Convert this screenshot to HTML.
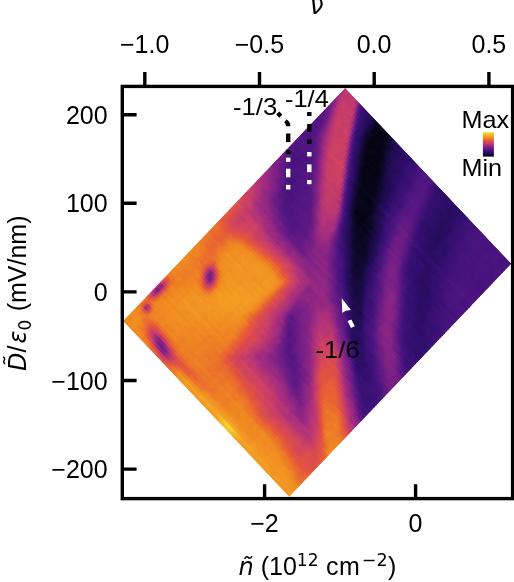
<!DOCTYPE html>
<html lang="en"><head><meta charset="utf-8"><title>nu - D map</title>
<style>
html,body{margin:0;padding:0;background:#fff}
#fig{position:relative;width:514px;height:582px;overflow:hidden;background:#fff}
#hm{position:absolute;left:0;top:0;width:321.83px;height:242.14px;transform-origin:0 0;transform:matrix(0.68981,-0.72399,0.68679,0.72685,123.00,321.00);overflow:hidden}
#hm div{position:absolute;top:0;height:242.14px}
#ov{position:absolute;left:0;top:0}
text{font-family:"Liberation Sans",sans-serif;fill:#000}
.dj{font-family:"DejaVu Sans",sans-serif}
.it{font-family:"DejaVu Sans",sans-serif;font-style:italic}
</style></head><body>
<div id="fig">
<div id="hm">
<div style="left:0px;width:4px;background:linear-gradient(180deg,#f08720,#ef8521,#f08920,#f08b21,#f08621,#f08b21,#ef8521,#ee8124,#f08621,#ee8024,#eb702c,#e96930,#e86134,#e4563b,#e05243,#e4563c,#e86034,#ea6a2f,#ec732b,#ee7d26,#f08a20,#f18d21,#f19222,#f29723,#f29523,#f29423,#f29723,#f29423,#f29924,#f29723,#f29824,#f3a025,#f39a24,#f39c24,#f39b24,#f3a025,#f5a927,#f5b82c,#f5bf2e,#f5c430,#f5bf2e,#f5b72c,#f5a927,#f4a326,#f29924,#f29723,#f39a24,#f39e25,#f29a24,#f29523,#f39b24,#f29824,#f29723,#f29623,#f39a24,#f29623,#f29322,#f29824,#f29623,#f29723,#f29723,#f29423,#f29723,#f39a24)"></div>
<div style="left:3px;width:4px;background:linear-gradient(180deg,#f08c21,#f18c21,#f18f22,#f19222,#f18c21,#f08820,#f08820,#ed7928,#eb712b,#e96730,#e15341,#d94b50,#cf4161,#c53c69,#c63d67,#d1435f,#de5047,#e75c36,#ec742a,#ee7e25,#f19022,#f19022,#f29623,#f39e25,#f39e25,#f39f25,#f39c24,#f39f25,#f4a627,#f4a526,#f4a226,#f4a827,#f4a827,#f4a526,#f4a727,#f5af29,#f5b22a,#f5c530,#f5cb32,#f5cc32,#f5c932,#f5bf2e,#f5b32a,#f5aa28,#f3a025,#f39f25,#f4a326,#f4a426,#f39d25,#f39f25,#f39f25,#f39e25,#f39d25,#f39f25,#f39b24,#f29723,#f29623,#f39c24,#f29924,#f39d25,#f29924,#f29523,#f39a24,#f29924)"></div>
<div style="left:6px;width:4px;background:linear-gradient(180deg,#f18d21,#ef8422,#f18e21,#f18f21,#f08820,#ed7c26,#ec7729,#e75b37,#de5046,#d04260,#b63574,#9c2b7f,#8e2682,#872484,#972980,#ac307c,#cb4064,#dd4f48,#e75b36,#ea6b2f,#ed7928,#ee7d26,#ef8223,#f08a20,#f08b21,#f08b21,#f19322,#f18f22,#f29623,#f29423,#f29823,#f39c25,#f29723,#f39c25,#f39b24,#f39d25,#f39e25,#f4a727,#f4a727,#f4a627,#f4a827,#f4a426,#f39e25,#f29924,#f29824,#f29623,#f29423,#f39d25,#f29723,#f29723,#f29623,#f29824,#f29423,#f29523,#f19222,#f29423,#f19222,#f29423,#f29423,#f29523,#f29523,#f19022,#f19122,#f29322)"></div>
<div style="left:9px;width:4px;background:linear-gradient(180deg,#f18f22,#f18e21,#f18c21,#f18f22,#f08a20,#ed7a27,#e86432,#dd4f48,#cb4064,#ae317b,#882484,#771f85,#711d85,#771f86,#942881,#b13378,#ca3f65,#d84a52,#dd4f48,#e55739,#e75e35,#e75b37,#e75f35,#ea6d2e,#eb712b,#eb722b,#ee7c26,#ed7a27,#ef8521,#f18c21,#f18d21,#f19022,#f19122,#f19022,#f18f22,#f29423,#f29623,#f29623,#f39a24,#f29323,#f29723,#f29423,#f19222,#f29323,#f29323,#f19122,#f29423,#f29924,#f19222,#f19022,#f29523,#f19222,#f29723,#f29623,#f29322,#f29423,#f29924,#f29523,#f29423,#f29824,#f29723,#f19222,#f19022,#f18e21)"></div>
<div style="left:12px;width:4px;background:linear-gradient(180deg,#f08b21,#f08621,#f18e21,#f08b21,#ee7c26,#ea6c2e,#e4563b,#d2445d,#ba3771,#a12c7e,#842384,#832285,#872484,#9f2c7f,#b73673,#cf4161,#d74953,#dd4f49,#e15341,#e05242,#e5573a,#e65838,#e65a37,#e96631,#e86034,#ea6c2e,#eb722b,#eb6e2d,#ec742a,#ee7c26,#ee8024,#ee7f24,#ef8322,#f08820,#ef8322,#f08a20,#f08b21,#f18c21,#f18e21,#f08a20,#f18c21,#f18c21,#f18e21,#f08b21,#f08621,#f18c21,#f08b21,#f19122,#f19322,#f18f21,#f19022,#f18e21,#f29323,#f19222,#f29322,#f29423,#f19122,#f29423,#f19222,#f18f21,#f18d21,#f08a20,#f08920,#f08920)"></div>
<div style="left:15px;width:4px;background:linear-gradient(180deg,#f08920,#f08820,#ef8422,#ef8123,#eb712c,#ea692f,#e3553d,#d64855,#cf4260,#c13a6c,#b73673,#be396e,#c53d68,#d54757,#de5047,#e15340,#e96532,#e86332,#ea692f,#e86333,#ea6d2e,#ea6b2e,#e96532,#ea692f,#ea6b2e,#eb6e2d,#eb6f2c,#eb6e2d,#ed7a27,#eb712c,#ed7928,#ee7c26,#ee7e25,#ee8124,#ed7c26,#ef8223,#ee7f25,#f08920,#f08820,#f08621,#f08820,#f08a21,#f08a20,#f08a20,#f08920,#ef8621,#f18c21,#f18f21,#f18d21,#f08b21,#f18f21,#f18f22,#f19322,#f18d21,#f19022,#f18f22,#f19022,#f19222,#f19022,#f08721,#ef8422,#ed7a27,#ed7a27,#ed7828)"></div>
<div style="left:18px;width:4px;background:linear-gradient(180deg,#f08820,#ef8521,#eb722b,#ed7a27,#ec7629,#ea6c2e,#e75f34,#e15342,#e05244,#e05244,#e05243,#e2543f,#e65938,#e86432,#ea6b2e,#eb712b,#ec7729,#ec7529,#ed7828,#eb702c,#ed7c26,#ed7927,#eb712b,#ed7a27,#eb722b,#ec7629,#ed7828,#eb712b,#ee7c26,#ec7729,#ed7728,#ee7d26,#ed7a27,#ee7f24,#ee7d26,#ee7f25,#ef8323,#f08920,#f08721,#ef8124,#f08920,#f08920,#f08820,#ef8323,#f08621,#f08a20,#ef8521,#f18e21,#f08a20,#f08820,#f18f22,#f08a20,#f18d21,#f19022,#f18c21,#f08920,#ef8223,#ef8422,#ee7e25,#ef8521,#ec7729,#ea6c2e,#ea6a2f,#ea6c2e)"></div>
<div style="left:21px;width:4px;background:linear-gradient(180deg,#ef8123,#ec732b,#da4c4d,#e75f35,#ed7a27,#ee7c26,#ed7728,#ea6b2e,#eb712c,#eb702c,#eb712c,#ec742a,#ec7529,#ec7629,#ee7c26,#ed7728,#ef8323,#ee7e25,#ed7a27,#ed7828,#ee7d25,#ed7b27,#ee7c26,#ed7927,#ec732a,#ec7629,#ec7629,#ec742a,#ed7b26,#ed7728,#ed7b26,#ed7b26,#ed7b27,#ee7e25,#ed7927,#ef8223,#ef8223,#ef8123,#ef8521,#f08621,#f08a21,#ef8521,#f08820,#ef8322,#f08c21,#f08820,#f18c21,#f18e21,#f18c21,#f08b21,#f08b21,#f08b21,#f08820,#f08a20,#ef8223,#ee7f25,#ee7d26,#ee7e25,#ec7629,#eb722b,#ea6b2f,#e86233,#ea6a2f,#ea6d2e)"></div>
<div style="left:24px;width:4px;background:linear-gradient(180deg,#f08720,#e4563b,#9a2a80,#d64856,#ee7f24,#ef8521,#f08820,#ee8024,#f08820,#ef8322,#ee8124,#f08621,#f08720,#f08a20,#ef8422,#ef8223,#ef8223,#ee7e25,#ee7e25,#ee8024,#ee8024,#ef8322,#ef8223,#ee8124,#ef8123,#ed7a27,#ee7e25,#ec7629,#ee8024,#ed7828,#ee7d25,#ee8024,#ee7d25,#ef8521,#ee8124,#ef8422,#f08721,#f08b21,#f08820,#f08820,#f08920,#ef8123,#f08721,#ee7f24,#f08621,#ef8123,#f08621,#f18c21,#f08621,#f08720,#f08621,#ef8223,#ee7d26,#ee7e25,#ee7e25,#ed7728,#ec732a,#ea6d2d,#e96830,#e96830,#e96531,#e75f34,#e86333,#ea6a2f)"></div>
<div style="left:27px;width:4px;background:linear-gradient(180deg,#ee7d26,#e65a37,#af317a,#d94b50,#ef8223,#f08621,#f08820,#ef8123,#f18c21,#ef8124,#ef8123,#ef8223,#f08920,#ef8422,#ef8123,#ed7b26,#ef8322,#ee8124,#ee7e25,#ec7729,#ee7c26,#ed7c26,#ed7a27,#ee7d26,#ec7729,#eb6e2d,#ec752a,#eb6e2d,#ed7828,#ec7729,#ec742a,#ed7828,#ed7b26,#ee7f24,#ed7927,#ec7729,#ee7e25,#ef8422,#ef8422,#ed7928,#ed7928,#ec752a,#ed7728,#eb6f2c,#eb712c,#eb6e2d,#ec7629,#ec752a,#ec7729,#ec732b,#ed7828,#ec742a,#ec732b,#e96730,#ea6b2f,#e96531,#e75c36,#e86134,#e65938,#e75c36,#e3553d,#e2543f,#e75b37,#e86432)"></div>
<div style="left:30px;width:4px;background:linear-gradient(180deg,#ec7729,#e86134,#e65a37,#ec742a,#f08a20,#ef8522,#f08920,#ef8223,#f18c21,#f18d21,#ef8621,#f08820,#f08c21,#f08721,#ef8223,#ee7e25,#ee7f24,#ef8521,#ee8024,#ee8124,#ef8522,#ed7b26,#ed7927,#ee8024,#ed7928,#ec752a,#eb712c,#ec742a,#ec7629,#eb702c,#ec7529,#ee7d25,#ee7f24,#ee7d26,#ec7529,#ef8123,#ed7927,#ed7b26,#ec7728,#eb712c,#ec7729,#ea6c2e,#ea692f,#e96532,#ea6930,#e86333,#ea6a2f,#ea6d2e,#ea692f,#e96432,#ea6e2d,#ea6c2e,#e86432,#e75e35,#e65838,#e65838,#e2543f,#e2543f,#e15341,#e05243,#e3553e,#e15341,#e3553d,#e75b37)"></div>
<div style="left:33px;width:4px;background:linear-gradient(180deg,#e86333,#e15342,#ec742a,#f08621,#f08720,#f08820,#f18c21,#f08720,#f18c21,#f18d21,#f08b21,#f18d21,#f08b21,#f08820,#f08721,#ef8323,#f08820,#ef8522,#ef8323,#ef8123,#ef8422,#ee7d26,#ec7729,#ee7f25,#ed7928,#ec742a,#ec732a,#eb6e2d,#ec7729,#ec7629,#ec7629,#ed7927,#eb722b,#ed7928,#ec732b,#eb712b,#ec732b,#ec7529,#ec732a,#ea6930,#e96730,#e75f35,#e86233,#e3553d,#e4563b,#e4563b,#e75c36,#e75d35,#e55739,#e4563c,#e65a37,#e65937,#e65839,#e4563c,#e05242,#df5145,#de5047,#db4d4c,#dc4e4a,#e25440,#e05242,#de5046,#e2543f,#e3553d)"></div>
<div style="left:36px;width:4px;background:linear-gradient(180deg,#e05243,#d1435e,#e75c36,#f08621,#f08c21,#f08920,#f08b21,#f18c21,#f18c21,#f18d21,#f08a20,#ef8521,#f08b21,#f08820,#f08920,#f08920,#f08720,#ef8223,#ef8322,#ee7d25,#ef8422,#ed7828,#ec7529,#ec742a,#ec7629,#eb702c,#eb6f2c,#ea6b2f,#eb722b,#ea6d2d,#ea6d2d,#eb6f2d,#ea6d2d,#ea6d2d,#e86432,#e96531,#e96731,#e96731,#e86432,#e75d35,#e75e35,#e2543f,#e15341,#dc4e49,#dd4f49,#db4d4c,#dd4f49,#de5046,#df5145,#dd4f49,#de5046,#df5144,#dc4e4b,#da4c4d,#de5046,#d84a51,#d54756,#d64855,#d84a51,#de5047,#de5047,#dc4e49,#dd4f48,#de5046)"></div>
<div style="left:39px;width:4px;background:linear-gradient(180deg,#d3455b,#af327a,#e15341,#ef8521,#f08820,#f08b21,#f08a20,#f08a20,#f18f21,#f18d21,#f18d21,#f18f22,#f18e21,#f08920,#f08720,#ef8322,#ef8522,#ef8522,#ef8522,#ee7f25,#ef8323,#ee7e25,#ed7927,#ed7927,#ed7a27,#ec732a,#eb6e2d,#e96930,#ea6d2d,#ea6a2f,#ea6a2f,#ea6b2e,#e96432,#e96731,#e86034,#e85f34,#e75b37,#e75b36,#e4563c,#e2543f,#e4563b,#de5047,#dc4e4a,#db4d4b,#d74953,#d44658,#da4c4e,#da4c4e,#d84a51,#d64856,#da4c4e,#d84a52,#d84a51,#d94b4f,#d84a52,#d54757,#d54757,#d54757,#d94b4f,#dd4f48,#da4c4d,#d94b50,#dd4f49,#e25440)"></div>
<div style="left:42px;width:4px;background:linear-gradient(180deg,#bf3a6d,#872484,#d84a51,#ef8323,#f08b21,#f18d21,#f18d21,#f08b21,#f18f22,#f19022,#f19222,#f19022,#f19022,#f18e21,#f08721,#f08721,#f08820,#f08920,#f08920,#ee7d25,#ef8322,#ee8024,#ed7928,#ed7a27,#ec732a,#eb722b,#ea6a2f,#e96730,#e96731,#e86233,#e86133,#e75c36,#e4563b,#e75b37,#e25440,#e2543f,#e15341,#e3553e,#df5145,#dc4e49,#dd4f48,#db4d4b,#d54756,#d74953,#d44659,#cf4161,#d04260,#d54757,#d2445d,#d2445d,#d54756,#d2445c,#d3455b,#d44659,#d44659,#d54757,#d4465a,#d44658,#d64856,#dd4f48,#da4c4e,#d94b4f,#de5047,#e75d35)"></div>
<div style="left:45px;width:4px;background:linear-gradient(180deg,#b23377,#701d85,#d04260,#ed7a27,#ef8124,#f08820,#f08b21,#f08820,#f18c21,#f18c21,#f08920,#f18d21,#f08a21,#f18c21,#f08b21,#ef8223,#f08820,#ef8322,#ee8024,#ee7c26,#ee8024,#ee7e25,#ed7b27,#ec7629,#eb722b,#e96930,#e86332,#e25440,#e75c36,#e3553e,#e3553d,#e15341,#dd4f48,#e05244,#de5047,#dc4e49,#d74953,#dd4f49,#d84a52,#d54757,#d44658,#d1435f,#d1435f,#cd4162,#cb3f64,#ca3f65,#ca3f64,#c93f65,#c93f65,#cb3f64,#cf4161,#ca3f65,#cb4064,#cc4063,#cd4162,#ce4162,#c83e66,#ce4161,#d3455b,#d74954,#d84a51,#d64855,#e15341,#e5573b)"></div>
<div style="left:48px;width:4px;background:linear-gradient(180deg,#bc3870,#7a2086,#d2445c,#ee8024,#f08820,#f18e21,#f19022,#f18f21,#f29323,#f19222,#f18e21,#f19222,#f19222,#f18f21,#f18f22,#f18d21,#f08a20,#f08a20,#f08820,#ee8024,#f08720,#ee7f25,#ee7c26,#ee8024,#ed7927,#ea6b2e,#e86034,#e15342,#e3553e,#dd4f48,#de5047,#e05243,#dc4e4a,#db4d4c,#d84a51,#db4d4c,#d84a52,#db4d4d,#d74954,#d74954,#d64855,#d3455b,#d1435f,#cf4161,#cb4064,#c83e66,#c73d67,#c53c69,#c23b6b,#c33c6a,#bf3a6d,#bf396e,#bf396e,#c23b6b,#c03a6d,#c63d67,#c63d68,#cb4064,#cd4063,#d44659,#d94b4f,#df5144,#e65839,#e96830)"></div>
<div style="left:51px;width:4px;background:linear-gradient(180deg,#c93e66,#832285,#d3455b,#ec732b,#ef8322,#ef8323,#f18e21,#f08721,#f29322,#f19022,#f18d21,#f18e21,#f19222,#f18e21,#f08621,#f08a21,#f08a20,#ef8223,#f08721,#ed7b27,#ef8223,#ee7d26,#ec7729,#ee7c26,#eb702c,#e86432,#e2543f,#d74953,#db4d4c,#d54756,#d2445c,#d54757,#d1435f,#d3455a,#d1435f,#d2445d,#d1435f,#d1435d,#d2445c,#d04260,#cc4063,#ca3f65,#c93e66,#c63d68,#c13a6c,#b83673,#b93672,#b33476,#ad317b,#af317a,#b53575,#b53475,#b43476,#b33476,#b93672,#b93772,#bb3771,#c03a6d,#c63d68,#d3455b,#da4c4e,#de5047,#e65938,#ea6a2f)"></div>
<div style="left:54px;width:4px;background:linear-gradient(180deg,#dc4e4a,#b53475,#dc4e4a,#ee8024,#f08721,#f18c21,#f18d21,#f18e21,#f19222,#f19122,#f29423,#f19122,#f19122,#f18f22,#f29322,#f18e21,#f18d21,#f08b21,#f08b21,#f08720,#ef8322,#ef8522,#ee7e25,#ee7e25,#ec7729,#ea6a2f,#e75c36,#d84a51,#d54757,#d0425f,#d1435e,#d3455a,#cb3f64,#d0425f,#d04260,#cc4063,#ce4162,#d2445c,#ce4162,#cc4063,#cc4063,#ca3f65,#c23b6b,#c23b6b,#ba3771,#b73673,#b63574,#b33476,#ae317b,#a52e7d,#ad317b,#ad307b,#b03279,#b43475,#af317a,#b43476,#b33377,#bb3870,#cf4260,#d84a52,#e15342,#e4563c,#e96531,#ee7c26)"></div>
<div style="left:57px;width:4px;background:linear-gradient(180deg,#e75e35,#d44658,#e86233,#ef8322,#f08621,#f18c21,#f19122,#f19122,#f29924,#f29723,#f29523,#f29824,#f29824,#f29823,#f29423,#f19222,#f19122,#f29423,#f18c21,#f08b21,#f08b21,#f08a20,#f08820,#ef8322,#ee7d25,#e96830,#e86034,#db4d4c,#d2445c,#ce4162,#d1435e,#d3455a,#d1435f,#d04260,#cd4162,#d2445c,#cd4063,#d1435f,#cf4261,#c93e66,#cd4063,#c63d68,#c33b6a,#bc386f,#b83673,#b53475,#b13378,#b13378,#aa2f7c,#ab307c,#aa2f7c,#a62e7d,#ab307c,#ae317b,#b23378,#b73574,#ba3771,#c93f65,#d44658,#dd4f49,#e3553d,#e96730,#ef8223,#f18d21)"></div>
<div style="left:60px;width:4px;background:linear-gradient(180deg,#eb6f2d,#e15342,#e96830,#ee7c26,#ee7d26,#ef8124,#f08a20,#f08920,#f19022,#f19222,#f18f22,#f19122,#f19222,#f18e21,#f18f22,#f08b21,#f08a21,#f08b21,#f08a20,#ef8322,#ef8223,#ef8522,#ee8024,#ef8223,#ec7629,#e86034,#e4563c,#d64855,#d44659,#c43c6a,#c43c69,#c23b6b,#be396e,#c33b6a,#c13b6c,#c23b6b,#c03a6d,#be396e,#c43c69,#ba3771,#be396e,#b93672,#b33476,#ae317b,#a12c7e,#a92f7d,#a42d7e,#a62e7d,#982980,#952881,#942881,#942881,#972980,#9e2b7f,#ab307c,#b33476,#bd396f,#cd4063,#d84a52,#dc4e4b,#e75e35,#ea6d2d,#ef8223,#f08920)"></div>
<div style="left:63px;width:4px;background:linear-gradient(180deg,#ef8521,#ec732b,#eb702c,#ed7b27,#ee7e25,#f08a20,#f18d21,#f18c21,#f18f22,#f19222,#f18e21,#f19122,#f29623,#f29523,#f19022,#f19022,#f29423,#f18f22,#f18d21,#f08b21,#f18d21,#f08820,#ef8223,#ef8422,#ed7828,#e96531,#e65a37,#da4c4d,#d44658,#cd4162,#c23b6b,#c43c69,#bd386f,#be396e,#bf396d,#b93672,#b73574,#b93772,#bb3771,#b63574,#b73574,#ae317a,#a72e7d,#a72e7d,#a42d7e,#9e2b7f,#9d2b7f,#9c2b7f,#962981,#8d2683,#8c2583,#8d2682,#982980,#a02c7f,#b33377,#bb3770,#c83e66,#d44659,#d94b4f,#e86133,#ec7629,#ee7f24,#f08721,#f18c21)"></div>
<div style="left:66px;width:4px;background:linear-gradient(180deg,#ef8323,#ed7c26,#ee7e25,#ef8522,#ee7d25,#ef8521,#f08920,#f08920,#f19222,#f29523,#f19222,#f29423,#f29423,#f29824,#f29323,#f29322,#f19122,#f19122,#f18e21,#f08621,#f18d21,#f08a21,#ee8024,#f08721,#ec7728,#e86432,#e5573a,#d74954,#d44658,#cd4162,#bc386f,#b93672,#b73574,#b63574,#af327a,#af327a,#b03279,#b23378,#b23377,#a82f7d,#af317a,#a62e7d,#a72e7d,#9e2b7f,#972980,#922781,#8e2682,#8d2683,#872484,#862384,#8c2583,#912782,#9f2c7f,#af327a,#bc3870,#c33c6a,#cc4063,#d74953,#e65838,#ed7b27,#ed7a27,#ef8123,#ef8422,#ef8422)"></div>
<div style="left:69px;width:4px;background:linear-gradient(180deg,#f08a20,#ef8322,#ee7d26,#f08621,#ee7e25,#ef8323,#f18d21,#f18d21,#f29323,#f29623,#f18f22,#f29924,#f29623,#f29723,#f29824,#f19222,#f29623,#f29423,#f19122,#f18e21,#f18c21,#f08920,#f08621,#f08920,#ef8322,#e96830,#e65838,#da4c4d,#d64855,#ce4162,#be396e,#b93772,#ab307c,#b03279,#a22d7e,#a42d7e,#a82f7d,#a52e7e,#aa2f7c,#a42d7e,#a52e7e,#a22d7e,#a12c7e,#992a80,#8d2682,#852384,#8b2583,#842384,#7d2086,#812285,#8e2682,#9b2a7f,#a82f7d,#b73673,#bd386f,#c23b6b,#d44659,#e65938,#ed7a27,#f08621,#ee7f24,#ee8024,#ef8323,#f08920)"></div>
<div style="left:72px;width:4px;background:linear-gradient(180deg,#ef8521,#ef8322,#ee7f24,#ed7b26,#ed7a27,#ef8522,#f08721,#f08820,#f19022,#f18c21,#f19022,#f18f22,#f19322,#f29523,#f29824,#f19122,#f29623,#f19222,#f18d21,#f18e21,#f18d21,#f08720,#ef8521,#ef8223,#ec7529,#e86034,#e65938,#d94b4f,#d3455b,#c83e66,#bf396d,#af317a,#9b2a7f,#9f2c7f,#9d2b7f,#9d2b7f,#9b2a80,#9e2b7f,#982980,#982980,#942881,#972980,#922782,#852384,#7b2086,#731e85,#721e85,#741e85,#751e85,#7d2086,#952881,#a32d7e,#af317a,#b63574,#c23b6b,#d2445d,#e15342,#ea6b2f,#ed7a27,#ef8422,#ee7f24,#ee8024,#ee7f25,#ef8223)"></div>
<div style="left:75px;width:4px;background:linear-gradient(180deg,#f18d21,#f08621,#ef8522,#ee7c26,#ee7f25,#ef8422,#ef8422,#f08a21,#f18d21,#f18d21,#f08820,#f18d21,#f29523,#f19122,#f29423,#f29623,#f29723,#f29723,#f29423,#f18c21,#f19222,#f18c21,#f08a20,#ef8522,#ec7529,#e75e35,#e3553e,#d74953,#d84a51,#ca3f64,#bf396d,#b33377,#a22d7e,#9d2b7f,#9a2a80,#9a2a80,#982980,#982980,#982980,#942881,#8e2682,#882484,#7b2086,#771f86,#6d1c85,#6a1c84,#631a84,#761f85,#7e2186,#8b2583,#9c2b7f,#a92f7d,#b33476,#bf396d,#d2445d,#e15342,#e96631,#ed7b27,#ed7927,#ed7a27,#ef8223,#ed7828,#ee8024,#ec7529)"></div>
<div style="left:78px;width:4px;background:linear-gradient(180deg,#f08a20,#f08621,#ee7f25,#ed7928,#ed7a27,#ef8422,#f08720,#f08621,#ef8323,#ed7a27,#ec742a,#ee7e25,#f19122,#f29623,#f29924,#f29523,#f29723,#f29623,#f29523,#f19022,#f19022,#f18c21,#f08a21,#ee7e25,#ec742a,#e75f35,#e2543f,#d84a51,#d64855,#cc4063,#c53c69,#b53575,#9e2b7f,#9f2c7f,#8e2682,#8f2682,#8c2583,#8e2682,#8b2583,#842384,#7f2185,#741e85,#6c1c84,#631a84,#5e1983,#611983,#701d85,#771f86,#852384,#912782,#a22d7e,#ab307c,#b93672,#cf4161,#dd4f48,#e96631,#ec7629,#ee7d26,#ed7728,#ed7a27,#ed7b26,#ec7729,#ec742a,#e86333)"></div>
<div style="left:81px;width:4px;background:linear-gradient(180deg,#f08920,#f08621,#ef8323,#ef8124,#ed7728,#ef8123,#ee8024,#ed7b26,#eb6e2d,#e5573a,#e4563c,#eb712c,#f08920,#f29723,#f29723,#f39b24,#f39a24,#f29824,#f29623,#f19122,#f29323,#f18e21,#f18c21,#ef8422,#eb712b,#e75b36,#e25440,#d74954,#db4d4d,#cc4063,#c03a6d,#b73673,#a62e7d,#9b2a80,#882483,#832285,#7f2185,#812285,#7e2186,#781f86,#741e85,#681b84,#651b84,#5d1983,#5d1983,#631a84,#711d85,#852384,#922781,#972980,#ad317b,#ba3771,#cb3f64,#da4c4e,#e75e35,#eb712b,#ec742a,#ec732b,#ee7f24,#ef8322,#ed7828,#e96731,#e75f35,#e3553e)"></div>
<div style="left:84px;width:4px;background:linear-gradient(180deg,#f18f22,#f08920,#ee8024,#ef8123,#ee7f25,#ef8223,#f08621,#eb722b,#e05243,#c73e67,#d2445d,#e75f34,#f18f22,#f29623,#f39d25,#f29a24,#f39e25,#f39b24,#f39b24,#f29423,#f29423,#f19222,#f08c21,#ee8024,#ea6d2d,#e55739,#e15341,#d74952,#d64855,#d54758,#c43c69,#b83673,#a72e7d,#9f2c7f,#8c2583,#862384,#7d2086,#731e85,#761f85,#6d1c85,#681b84,#651b84,#5d1983,#5f1983,#611a83,#6b1c84,#7f2185,#8c2583,#952881,#9d2b7f,#b63575,#cc4063,#dc4e4a,#e75b37,#eb6e2d,#ed7b26,#eb722b,#ed7828,#ee7c26,#ee7c26,#eb6f2d,#e75f35,#e25440,#d84a51)"></div>
<div style="left:87px;width:4px;background:linear-gradient(180deg,#f18d21,#f08820,#ef8422,#ee7e25,#ee7d26,#ef8223,#ed7a27,#e4563b,#bc3870,#962981,#ba3771,#e86133,#f18e21,#f39a24,#f39e25,#f39b24,#f39d25,#f39b24,#f39c24,#f29824,#f39c24,#f19222,#f18d21,#ef8422,#ec732b,#e65838,#df5145,#d44659,#d3455a,#cc4063,#c13b6b,#b43475,#9f2c7f,#9d2b7f,#8b2583,#812285,#721e85,#741e85,#701d85,#601983,#611983,#581783,#5b1883,#631a84,#6a1c84,#791f86,#892483,#932881,#9c2b7f,#af327a,#c93f65,#d94b4f,#e5573a,#eb6e2d,#eb6f2c,#ec752a,#ec7629,#ee7d25,#ed7928,#ea6c2e,#e55739,#dc4e4a,#d2445c,#c73e67)"></div>
<div style="left:90px;width:4px;background:linear-gradient(180deg,#f08820,#f08621,#ef8422,#ed7828,#ec7729,#ec742a,#ea6a2f,#cc4063,#852384,#6f1d85,#b83673,#e75d36,#f08a20,#f29523,#f29824,#f29824,#f39c24,#f29924,#f39a24,#f29523,#f29423,#f29623,#f08621,#ed7c26,#e75f35,#e05244,#da4c4f,#d1435e,#d3455b,#c43c69,#bd396e,#af3279,#a02c7f,#972980,#7f2185,#7a2086,#681b84,#671b84,#5d1983,#581883,#571782,#571782,#5e1983,#641a84,#671b84,#771f86,#812285,#952881,#aa2f7c,#c23b6b,#d64856,#e2543f,#e86432,#ea692f,#ea6b2f,#ea6a2f,#ea6b2f,#ec732b,#ea6b2e,#e65937,#dc4e4a,#c93f65,#c13a6c,#b93672)"></div>
<div style="left:93px;width:4px;background:linear-gradient(180deg,#f08920,#ee8024,#ed7927,#ed7828,#ee7d25,#ed7728,#e65838,#b73673,#731e85,#7e2186,#ca3f64,#eb702c,#f19022,#f29824,#f29a24,#f39b24,#f39b24,#f39f25,#f39c24,#f29824,#f39c25,#f29523,#f08b21,#ed7a27,#e86332,#e25440,#dc4e4b,#d3455b,#d1435f,#cd4062,#bb3771,#b33377,#9e2b7f,#902782,#7c2086,#711d85,#661b84,#611a83,#5f1983,#581783,#5b1883,#5e1983,#691c84,#711d85,#771f86,#862384,#8d2683,#a92f7d,#bd386f,#cd4063,#e25440,#e75e35,#e96631,#e96730,#e96631,#ea6d2e,#ea6d2e,#ea6a2f,#e5573a,#d84a52,#cf4260,#bd386f,#b43476,#af3279)"></div>
<div style="left:96px;width:4px;background:linear-gradient(180deg,#f08a20,#ee8024,#ef8322,#ec742a,#ea6d2d,#ea6d2d,#e2543f,#ab307c,#7c2086,#ab307c,#e05244,#ee7f25,#f19222,#f19222,#f29423,#f29824,#f29924,#f39c24,#f39b24,#f29824,#f29924,#f19122,#f08c21,#ec7529,#e75c36,#dd4f49,#d84a51,#ce4162,#c83e66,#bf3a6d,#b53475,#aa2f7c,#9a2a80,#932881,#741e85,#6a1c84,#5c1883,#551782,#531682,#521682,#5c1883,#611a83,#6b1c84,#741e85,#7b2086,#832285,#9a2a80,#bb3870,#cc4063,#d84a51,#e65938,#e86233,#e86233,#e86333,#e86134,#e86233,#e75c36,#e15340,#d4465a,#c63d68,#b63574,#a12c7e,#9d2b7f,#992a80)"></div>
<div style="left:99px;width:4px;background:linear-gradient(180deg,#f08b21,#f08721,#ef8223,#ed7928,#eb702c,#ec732a,#e4563c,#c23b6b,#b53475,#d74953,#ea6b2f,#f18d21,#f19022,#f29523,#f39a24,#f29824,#f39f25,#f39c25,#f39d25,#f29a24,#f39d25,#f29824,#f19122,#ee8124,#e75e35,#db4d4d,#d74953,#d2445d,#ce4162,#bf3a6d,#b43476,#ad317b,#942881,#902782,#711d85,#631a84,#561782,#581783,#5b1883,#581783,#681b84,#6f1d85,#7e2186,#832285,#862384,#962981,#b23377,#cb3f64,#d94b4f,#e2543f,#e75d36,#e75e35,#e75e35,#e86233,#e96730,#e75c36,#df5146,#d84a51,#c63d67,#b93672,#a52e7d,#9a2a80,#922781,#892483)"></div>
<div style="left:102px;width:4px;background:linear-gradient(180deg,#ef8521,#ef8422,#ee7e25,#ec7629,#ea6b2e,#ea6c2e,#e75f35,#d74953,#de5047,#e96730,#ef8322,#f19122,#f29723,#f29823,#f29523,#f29623,#f29924,#f29723,#f39e25,#f39d25,#f3a025,#f29824,#f19222,#ee8124,#e75d36,#db4d4c,#d44659,#ce4162,#cd4063,#b73673,#a92f7d,#a82f7d,#942881,#7a1f86,#611a83,#571782,#501681,#5a1883,#621a84,#631a84,#6f1d85,#741e85,#842384,#8a2583,#912782,#a42d7e,#c53d68,#d74953,#de5046,#e3553e,#e75d35,#e86134,#e75e35,#e86233,#e75c36,#e15341,#d64855,#c33c6a,#b33476,#a82f7d,#992a80,#852384,#7c2086,#6c1c85)"></div>
<div style="left:105px;width:4px;background:linear-gradient(180deg,#f08b21,#ef8123,#ee7c26,#eb722b,#eb6e2d,#eb702c,#ea6930,#e75e35,#ed7828,#f08820,#f18d21,#f19022,#f29623,#f29723,#f29924,#f29924,#f39a24,#f39d25,#f29924,#f39b24,#f3a025,#f29a24,#f19122,#ee8024,#e86034,#de5047,#d2445c,#ce4162,#c13b6b,#b43476,#a62e7d,#a32d7e,#882483,#741e85,#591883,#591883,#581783,#601983,#6a1c84,#6f1d85,#771f86,#7c2086,#862384,#912782,#a42d7e,#b83672,#d04260,#de5046,#e3553e,#e5573a,#e86134,#e85f34,#e86233,#e75b36,#e05243,#d3455b,#c43c6a,#b23377,#a02c7f,#9a2a80,#8a2583,#6d1d85,#601983,#591883)"></div>
<div style="left:108px;width:4px;background:linear-gradient(180deg,#ef8422,#ed7927,#ee7c26,#ec732b,#ea6d2d,#eb6e2d,#ed7728,#ed7c26,#f08820,#f18f22,#f19022,#f29523,#f29523,#f29423,#f19222,#f19122,#f39a24,#f39c24,#f39c24,#f39b24,#f39c24,#f39a24,#f19222,#ee7f24,#e86333,#d94b50,#d2445d,#c43c69,#bc386f,#b13278,#9d2b7f,#9d2b7f,#7c2086,#661b84,#541682,#5d1983,#5c1883,#691b84,#701d85,#751e85,#7c2086,#812285,#8f2682,#9a2a80,#b23377,#c63d68,#d64855,#e25440,#e15340,#e2543f,#e75c36,#e65838,#e65838,#db4d4c,#d3455b,#bc3870,#ab307c,#a42d7e,#992a80,#852384,#6d1c85,#5c1883,#4d157f,#47137c)"></div>
<div style="left:111px;width:4px;background:linear-gradient(180deg,#ee8124,#ed7b26,#ea6d2e,#e96830,#e96532,#eb722b,#ec752a,#ef8123,#f18c21,#f18f21,#f19122,#f18d21,#f19022,#f19022,#f29423,#f19022,#f29322,#f29623,#f29523,#f29323,#f29924,#f29824,#f29623,#ed7a27,#e75b36,#d84a51,#d04260,#c43c69,#b73673,#a72e7d,#992a80,#872484,#6a1c84,#571782,#501581,#5b1883,#5c1883,#691c84,#751e85,#771f85,#812285,#842384,#992a80,#a62e7d,#bd396e,#cf4161,#da4c4d,#e15342,#de5046,#de5047,#e5573a,#e3553e,#dc4e4a,#cf4261,#bd386f,#a42d7e,#912782,#8a2583,#7e2186,#671b84,#521682,#44127a,#3f1177,#3f1178)"></div>
<div style="left:114px;width:4px;background:linear-gradient(180deg,#ee7f25,#ec7729,#ec732a,#ea6c2e,#e96631,#ec732a,#ee7f24,#f08820,#f19022,#f19122,#f29322,#f19322,#f29523,#f29322,#f29322,#f29423,#f29723,#f29824,#f29824,#f29423,#f29a24,#f29824,#f18f22,#ee7d25,#e86233,#d94b4f,#cb3f64,#c13a6c,#b43476,#9f2c7f,#9d2b7f,#7f2185,#601983,#561782,#591883,#631a84,#691b84,#721e85,#7b2086,#7d2086,#882483,#912782,#a82f7d,#b83673,#c83e66,#d54758,#d84a51,#df5144,#df5145,#dc4e49,#e2543f,#d94b50,#cd4162,#bc386f,#a72e7d,#9b2a80,#892483,#781f86,#681b84,#511681,#4a147d,#3c1076,#3d1176,#3f1178)"></div>
<div style="left:117px;width:4px;background:linear-gradient(180deg,#ed7a27,#eb702c,#ea6b2f,#e96730,#e86233,#ec7729,#ee7d26,#f08920,#f18d21,#f18e21,#f19122,#f29322,#f29322,#f19322,#f19222,#f19222,#f29323,#f29423,#f29723,#f19122,#f29723,#f29523,#f19022,#ee7d26,#e75c36,#d94b4f,#d04260,#bb3870,#b33476,#a12c7e,#892483,#6a1c84,#521682,#5f1983,#611a83,#681b84,#6b1c84,#7b2086,#7e2186,#872484,#902782,#a32d7e,#b43476,#c53c69,#cf4161,#d64854,#d84a51,#db4d4c,#dd4f49,#dd4f48,#d84a52,#cd4062,#b83672,#a42d7e,#982980,#852384,#741e85,#601983,#4d157f,#44137a,#3a1075,#381074,#3d1176,#401178)"></div>
<div style="left:120px;width:4px;background:linear-gradient(180deg,#ed7c26,#ec7629,#ea6c2e,#ea692f,#ea692f,#ec752a,#ed7b27,#f08920,#f29623,#f19322,#f19222,#f29623,#f29924,#f29723,#f29623,#f19222,#f29723,#f29423,#f29824,#f29924,#f39d25,#f29824,#f29423,#ef8223,#e86432,#dc4e4a,#d44659,#c33b6a,#b13378,#9d2b7f,#802185,#621a84,#601983,#5f1983,#641a84,#6f1d85,#771f86,#832285,#872484,#932881,#a02c7f,#b13378,#c13a6c,#ce4161,#d3455a,#d74954,#df5145,#dc4e4b,#dd4f48,#db4d4d,#d2445d,#bf396d,#a32d7e,#972980,#862384,#781f86,#611a83,#521682,#43127a,#3b1075,#3b1075,#3d1176,#3e1177,#431279)"></div>
<div style="left:123px;width:4px;background:linear-gradient(180deg,#ec752a,#eb6e2d,#e75e35,#e75f34,#e86432,#ea6a2f,#ee7f25,#ef8323,#f18d21,#f18d21,#f18c21,#f18f22,#f19222,#f19122,#f19022,#f19222,#f19222,#f19022,#f19022,#f19122,#f19022,#f29423,#f19222,#ef8323,#e65a37,#d64854,#cf4161,#bb3770,#b03279,#992a80,#721e85,#571782,#591883,#641a84,#6a1c84,#711d85,#781f86,#832285,#892483,#922781,#a72e7d,#b63574,#c43c6a,#ce4161,#d04260,#d3455b,#d64856,#d84a51,#d64855,#c63d68,#b83673,#9c2b7f,#8f2682,#781f86,#701d85,#5b1883,#47137c,#3e1177,#380f73,#3c1076,#3b1075,#370f73,#3d1176,#3a1075)"></div>
<div style="left:126px;width:4px;background:linear-gradient(180deg,#ec7729,#ea6a2f,#e96830,#e75f35,#e86333,#ea6c2e,#ed7a27,#ef8323,#f18e21,#f19122,#f19122,#f19122,#f29623,#f29423,#f29523,#f29623,#f29623,#f19222,#f29723,#f19322,#f29723,#f29824,#f29323,#f08621,#e85f34,#dd4f48,#ce4162,#bd396e,#b03279,#9e2b7f,#741e85,#631a84,#671b84,#6e1d85,#721e85,#791f86,#7e2186,#882484,#982980,#a52e7d,#b63574,#c43c69,#ce4161,#d04260,#d04260,#d44659,#d54756,#d94b50,#c93e65,#b43476,#a72e7d,#8e2682,#7c2086,#701d85,#5a1883,#47137c,#3d1176,#3a1074,#3a1075,#3e1177,#3a1074,#3c1075,#3c1075,#401278)"></div>
<div style="left:129px;width:4px;background:linear-gradient(180deg,#ed7728,#ea6d2e,#e96731,#e86133,#e75c36,#eb702c,#ee7e25,#ef8322,#f18d21,#f19222,#f18e21,#f29723,#f29323,#f29623,#f19222,#f29523,#f29723,#f29824,#f29723,#f29423,#f39c25,#f29824,#f29523,#f08820,#e65838,#d94b4f,#d44659,#bc3870,#b03279,#972980,#791f86,#6f1d85,#6c1c85,#791f86,#7c2086,#812285,#812285,#982980,#a72e7d,#ae317b,#bb3770,#c63d67,#cc4063,#ce4162,#ce4162,#d2445d,#d64856,#cf4161,#ba3771,#9f2c7f,#8d2683,#812285,#721e85,#611a83,#44137a,#3b1075,#360f72,#3c1176,#3a1074,#3e1177,#3f1177,#3a1075,#411278,#4a147d)"></div>
<div style="left:132px;width:4px;background:linear-gradient(180deg,#eb6e2d,#eb712c,#e86233,#e75e35,#e75b36,#e96930,#ed7828,#ef8422,#f08b21,#f18c21,#f18e21,#f19122,#f18f22,#f29623,#f29423,#f29623,#f29a24,#f29723,#f29723,#f19322,#f29623,#f19122,#f29523,#ef8422,#e55739,#d94b50,#d3455b,#ba3771,#b13278,#962981,#761f85,#751e85,#711d85,#781f86,#7d2086,#842384,#8a2583,#9f2c7f,#ad307b,#b73673,#c63d68,#c33b6a,#c63d68,#cd4162,#d1435e,#cd4162,#c53c69,#b53575,#9f2c7f,#892483,#802185,#6e1d85,#541682,#44127a,#370f73,#391074,#391074,#3d1176,#381074,#401278,#3d1176,#401178,#46137b,#4c157f)"></div>
<div style="left:135px;width:4px;background:linear-gradient(180deg,#e96930,#e86333,#e75c36,#e3553e,#e4563c,#e86432,#ea6d2d,#ec7729,#f08621,#f18c21,#f18f22,#f18e21,#f19122,#f18f21,#f29323,#f29423,#f29523,#f29523,#f29322,#f29322,#f29824,#f29423,#f29322,#ef8322,#e65838,#d54757,#cc4063,#b53575,#ab307c,#972980,#7c2086,#7d2086,#781f86,#7c2086,#7c2086,#822285,#962981,#a22d7e,#b03279,#bc3870,#bc3870,#be396e,#c43c6a,#c43c6a,#c63d67,#bd386f,#b13278,#9c2b7f,#862384,#761f85,#6b1c84,#531682,#3d1176,#340f71,#340e71,#310e6e,#2e0d69,#380f73,#391074,#3f1177,#3f1177,#421279,#49147d,#541782)"></div>
<div style="left:138px;width:4px;background:linear-gradient(180deg,#e86333,#e75e35,#e3553d,#e05243,#de5047,#e3553d,#e75d35,#ea6a2f,#ec742a,#ee7f25,#ee7d26,#f08720,#f08c21,#f08b21,#f18c21,#f19022,#f29523,#f19322,#f19222,#f19222,#f29423,#f19122,#f19222,#ef8123,#e4563b,#d54757,#c93e66,#b33476,#a62e7d,#942881,#822285,#7f2185,#7a2086,#802185,#812285,#8c2583,#982980,#a82f7d,#b83673,#b43476,#bc386f,#b93772,#c13b6c,#c33c6a,#b33377,#a92f7d,#902782,#812285,#751e85,#5e1983,#511681,#3d1176,#2c0d65,#2e0d69,#300e6c,#330e70,#300e6d,#370f73,#3c1176,#3e1177,#44127a,#45137b,#541682,#621a84)"></div>
<div style="left:141px;width:4px;background:linear-gradient(180deg,#e65938,#e15341,#e05242,#da4c4e,#da4c4e,#db4d4c,#e25440,#e55739,#e96731,#ea6930,#ea6b2f,#ec752a,#ed7a27,#ee7e25,#ef8123,#ef8223,#f08b21,#f08920,#f18d21,#f08b21,#f18c21,#ef8422,#ee7e25,#ef8521,#e4563c,#d2445c,#c73e67,#ad317b,#a62e7d,#972980,#842384,#892483,#7e2185,#832284,#872484,#942881,#9f2c7f,#ae317b,#b23377,#b73574,#b73673,#b73573,#be396e,#b23377,#9e2b7f,#8a2583,#7d2086,#791f86,#5f1983,#47137c,#3a1075,#2f0e6a,#2e0d69,#2e0d69,#310e6f,#330e71,#350f72,#3c1176,#3e1177,#45137b,#4a147e,#4e1580,#5e1983,#691b84)"></div>
<div style="left:144px;width:4px;background:linear-gradient(180deg,#e86034,#e15341,#db4d4d,#d64855,#d3455a,#da4c4e,#db4d4c,#df5144,#e5573a,#e4563b,#e65838,#e75e35,#e86133,#ea6c2e,#ea6d2e,#ea6d2e,#ec7729,#ee7d25,#ee7e25,#ec7529,#ed7b26,#eb6f2c,#ea6a2f,#ea6a2f,#e3553d,#d2445c,#c53c69,#b43476,#a52e7d,#942881,#892483,#872484,#832285,#872484,#8a2583,#992a80,#a52e7e,#b33476,#b73573,#b23377,#bb3770,#ba3771,#ad307b,#9a2a80,#862384,#7a2086,#6f1d85,#611a83,#4c157f,#370f73,#2e0d69,#2e0d69,#2e0e6a,#2b0d64,#2f0e6b,#391074,#370f73,#43127a,#46137b,#501581,#571782,#591883,#671b84,#711d85)"></div>
<div style="left:147px;width:4px;background:linear-gradient(180deg,#e86332,#e05243,#d84a51,#d1435e,#d0425f,#d44659,#d84a52,#da4c4d,#df5144,#dd4f47,#df5146,#de5047,#e4563c,#e4563c,#e3553d,#e65a37,#e85f34,#e96830,#ea6b2e,#e96631,#ea6b2e,#e75d36,#e4563c,#e3553e,#dd4f49,#d1435f,#c73d67,#ae317a,#a52e7e,#8e2682,#912782,#942881,#8b2583,#912782,#972980,#9f2c7f,#aa2f7c,#ae317b,#af3279,#b13278,#b33476,#aa2f7c,#9f2c7f,#862384,#761f85,#6f1d85,#621a84,#4c147f,#360f72,#2f0e6a,#2c0d66,#2a0d62,#2b0d64,#350f71,#370f73,#3d1176,#3f1177,#4b147e,#4d157f,#5c1883,#651a84,#6e1d85,#731e85,#7a2086)"></div>
<div style="left:150px;width:4px;background:linear-gradient(180deg,#e75f35,#e05242,#d64855,#d1435f,#c83e67,#d04260,#d2445d,#d3455b,#d94b50,#da4c4e,#d64855,#d74953,#d94b50,#db4d4d,#db4d4d,#dd4f49,#e15341,#e15341,#e15340,#e3553d,#e2543f,#dc4e4b,#dc4e4a,#dc4e4b,#d54757,#cd4063,#bb3771,#a92f7d,#a62e7d,#8f2682,#912782,#8e2682,#8c2583,#932881,#962981,#9a2a80,#a12c7e,#ab307c,#ad317b,#a82f7d,#a22d7e,#8f2682,#832285,#731e85,#671b84,#581783,#47137c,#380f73,#260c5b,#280d5f,#2e0d69,#2b0d64,#310e6f,#370f73,#3d1176,#401278,#46137c,#511681,#601983,#5f1983,#6a1c84,#701d85,#761f85,#771f86)"></div>
<div style="left:153px;width:4px;background:linear-gradient(180deg,#e2543f,#db4d4c,#d3455a,#cf4260,#c33c6a,#d04260,#d1435f,#ce4162,#d3455a,#d3455a,#cd4162,#cd4162,#d44659,#d04260,#d3455a,#d3455b,#d2445c,#d64855,#d74953,#d84a52,#da4c4d,#d74954,#d3455b,#d2445d,#cf4260,#c63d68,#c23b6b,#aa2f7c,#a42d7e,#8b2583,#8a2583,#922781,#8a2583,#922781,#942881,#962981,#9e2b7f,#a82f7d,#a62e7d,#962980,#922781,#7b2086,#6b1c84,#621a83,#501681,#3f1178,#300e6c,#270d5d,#270d5d,#280d5f,#2b0d63,#2f0e6b,#3a1074,#3a1075,#3e1177,#47137c,#4f1580,#5e1983,#621a83,#6c1c84,#7a1f86,#721e85,#781f86,#781f86)"></div>
<div style="left:156px;width:4px;background:linear-gradient(180deg,#e3553e,#da4c4e,#d44658,#c93f65,#be396e,#c43c69,#cb4064,#c73e67,#ce4162,#cf4161,#c63d68,#c73d67,#c93f65,#ca3f64,#c83e66,#c63d68,#cd4162,#cb3f64,#ce4161,#cc4063,#d1435f,#d1435f,#cd4162,#c43c69,#be396e,#b33377,#ae317a,#a62e7d,#a12c7e,#8b2583,#892483,#892483,#8a2583,#912782,#8c2583,#942881,#992a80,#9f2c7f,#932881,#882483,#781f86,#6a1c84,#621a84,#521682,#401178,#300e6c,#250c5a,#260c5b,#270d5d,#280d5f,#2d0d68,#391074,#3a1074,#3b1075,#46137b,#4f1580,#5b1883,#6c1c84,#6f1d85,#7b2086,#781f86,#731e85,#751e85,#701d85)"></div>
<div style="left:159px;width:4px;background:linear-gradient(180deg,#e15341,#d84a52,#d54757,#cf4261,#c93e66,#c83e66,#cf4261,#cb4064,#d0425f,#c83e66,#c23b6b,#c53c69,#be396e,#bc3870,#c23b6b,#be396e,#bc386f,#c53c69,#c03a6c,#c13a6c,#c83e66,#cc4063,#c33b6a,#c03a6d,#b33377,#ae317b,#a92f7d,#a72e7d,#a32d7e,#902782,#932881,#9a2a80,#952881,#982980,#972980,#982980,#982980,#952881,#882484,#761f85,#6d1d85,#621a84,#581883,#49147d,#320e70,#2b0d63,#290d60,#2b0d64,#270d5d,#2c0d65,#3d1176,#421279,#46137b,#4f1580,#561782,#5d1983,#691c84,#781f86,#802185,#7e2186,#7e2186,#7a2086,#721e85,#691c84)"></div>
<div style="left:162px;width:4px;background:linear-gradient(180deg,#e15341,#dc4e49,#d44659,#ca3f64,#c73e67,#c83e66,#cb3f64,#c23b6b,#c83e66,#c03a6d,#bc386f,#b73574,#b33377,#ad317b,#b03279,#ad307c,#af317a,#b43476,#b03279,#af327a,#b53575,#b03279,#b03279,#b03279,#ad307b,#a72e7d,#a62e7d,#9e2b7f,#9e2b7f,#942881,#932881,#9a2a80,#992a80,#982980,#942881,#902782,#892483,#862384,#761f85,#6a1c84,#5e1983,#561782,#4a147e,#370f73,#270c5c,#260c5b,#280d5f,#2e0e6a,#2b0d64,#3b1075,#44127a,#47137c,#4a147e,#5c1883,#661b84,#701d85,#781f86,#862384,#852384,#842384,#802185,#741e85,#681b84,#5d1983)"></div>
<div style="left:165px;width:4px;background:linear-gradient(180deg,#da4c4e,#d1435e,#ca3f65,#c53c69,#bf396e,#bd386f,#b43476,#b43476,#b83673,#b53475,#ab307c,#a32d7e,#a02c7f,#9b2a80,#a02c7e,#992a80,#9a2a80,#9e2b7f,#9e2b7f,#932881,#9d2b7f,#9f2c7f,#9d2b7f,#9c2b7f,#9a2a80,#962981,#932881,#882484,#8e2682,#8f2682,#8e2682,#8f2682,#942881,#932881,#842384,#7d2086,#6a1c84,#691c84,#621a83,#5d1983,#511681,#43127a,#360f72,#260c5c,#1e0b4d,#220c54,#240c57,#2a0d61,#370f73,#3a1075,#431279,#48137c,#511681,#601983,#6b1c84,#731e85,#7f2185,#842384,#7d2086,#7b2086,#6f1d85,#5f1983,#531682,#4a147d)"></div>
<div style="left:168px;width:4px;background:linear-gradient(180deg,#d94b50,#d3455b,#c93f65,#c53d68,#bf3a6d,#b73574,#b43476,#b63574,#b03279,#a72e7d,#a42d7e,#9c2b7f,#9b2a80,#9a2a80,#932881,#8d2683,#962981,#952881,#8f2682,#8e2682,#982980,#932881,#932881,#952881,#902782,#8a2583,#8a2583,#882484,#882483,#892483,#8f2682,#952881,#8d2683,#902782,#7c2086,#711d85,#661b84,#5f1983,#581783,#4c157f,#44137a,#350f72,#280d5f,#200c51,#1f0b4f,#210c53,#240c58,#391074,#401278,#421279,#4a147e,#561782,#601983,#721e85,#751e85,#802185,#842384,#832285,#822285,#791f86,#651b84,#571782,#49147d,#43127a)"></div>
<div style="left:171px;width:4px;background:linear-gradient(180deg,#d84a52,#d3455a,#cc4063,#c93e66,#b83673,#b23377,#ae317a,#a72e7d,#a82f7d,#a62e7d,#9f2c7f,#9c2b7f,#952881,#8f2682,#8d2682,#882483,#892483,#8a2583,#892483,#882483,#8d2682,#8a2583,#8b2583,#8c2583,#8f2682,#8a2583,#8d2683,#8e2682,#922781,#982980,#942881,#932881,#8f2682,#8a2583,#771f85,#6d1c85,#611a83,#5d1983,#541782,#44127a,#3c1075,#2e0d69,#200c51,#220c54,#220c54,#220c53,#350f71,#44127a,#43127a,#49147d,#571782,#651a84,#721e85,#7e2186,#832285,#852384,#852384,#892483,#7a1f86,#6e1d85,#5d1983,#4d157f,#48137c,#401278)"></div>
<div style="left:174px;width:4px;background:linear-gradient(180deg,#d1435e,#cf4260,#c93e65,#be396e,#af3279,#a82f7d,#9e2b7f,#9c2b7f,#a32d7e,#932881,#982980,#8b2583,#892483,#7d2086,#7b2086,#781f86,#771f86,#7a2086,#761f85,#741e85,#771f85,#751e85,#761f85,#7f2185,#842384,#842384,#872484,#862384,#8b2583,#8e2682,#8d2682,#8e2682,#822285,#7c2086,#681b84,#5a1883,#531682,#4f1580,#421279,#350f72,#2d0d67,#1d0b4c,#210c52,#1e0b4e,#1f0c50,#2a0d62,#3d1176,#401278,#44137a,#501581,#651a84,#6d1c85,#7d2086,#8a2583,#892483,#862384,#7c2086,#7a2086,#6b1c84,#5f1983,#4a147d,#3f1177,#3b1075,#3d1176)"></div>
<div style="left:177px;width:4px;background:linear-gradient(180deg,#cb4064,#c53c69,#be396e,#b53475,#a02c7e,#9a2a80,#9a2a80,#8f2682,#952881,#8e2682,#822285,#7b2086,#781f86,#6e1d85,#6a1c84,#631a84,#681b84,#631a84,#641a84,#621a84,#661b84,#681b84,#6d1c85,#751e85,#771f86,#822285,#832284,#812285,#872484,#8b2583,#862384,#7f2185,#741e85,#661b84,#571782,#4e1580,#4a147e,#421279,#330e71,#270d5e,#220c53,#180b43,#1d0b4b,#1b0b48,#210c53,#320e70,#380f73,#421279,#48137c,#521682,#6f1d85,#7b2086,#842384,#812285,#822285,#842384,#6e1d85,#631a84,#541682,#4c157f,#3f1177,#370f73,#380f73,#381074)"></div>
<div style="left:180px;width:4px;background:linear-gradient(180deg,#d54756,#cb4064,#c43c69,#b23377,#a72e7d,#9e2b7f,#9b2a7f,#912782,#8e2682,#882484,#7d2086,#761f85,#781f86,#6d1c85,#681b84,#611a83,#5f1983,#621a84,#611a83,#601983,#6c1c85,#711d85,#771f86,#822285,#832285,#872484,#912782,#902782,#942881,#8e2682,#8b2583,#842384,#701d85,#661b84,#561782,#4f1581,#44137a,#381074,#300e6d,#220c54,#1c0b4a,#1d0b4c,#1f0b4e,#210c52,#370f73,#3b1075,#45137a,#4b147e,#541682,#671b84,#832285,#882483,#8f2682,#872484,#8c2583,#7a2086,#6c1c84,#621a84,#4e1580,#47137c,#3d1176,#3a1074,#3c1076,#3e1177)"></div>
<div style="left:183px;width:4px;background:linear-gradient(180deg,#ca3f65,#c23b6b,#b63574,#ac307c,#9a2a80,#972980,#952881,#8a2583,#812285,#7a2086,#721e85,#6b1c84,#601983,#5d1983,#591883,#551782,#561782,#551782,#611a83,#601983,#6a1c84,#711d85,#771f86,#7f2185,#822285,#852384,#8d2682,#862384,#8e2682,#832285,#7b2086,#711d85,#5d1983,#511681,#4a147d,#48137c,#381073,#2d0d67,#210c52,#160a40,#1b0b49,#190b45,#1c0b4a,#2d0d67,#3a1075,#3b1075,#3f1177,#4f1580,#611a83,#6c1c84,#872484,#8a2583,#8d2682,#892483,#7a1f86,#6a1c84,#5e1983,#4d157f,#401278,#3f1177,#370f73,#360f72,#380f73,#391074)"></div>
<div style="left:186px;width:4px;background:linear-gradient(180deg,#c53d68,#bb3771,#b63574,#a72e7d,#972980,#942881,#8e2682,#802185,#7f2185,#761f85,#671b84,#601983,#591883,#581783,#4f1580,#541682,#581783,#581783,#601983,#5f1983,#6a1c84,#731e85,#751e85,#862384,#882483,#902782,#8d2682,#8d2683,#902782,#7d2086,#6e1d85,#611983,#541682,#49147d,#431279,#360f72,#2b0d65,#250c59,#1a0b46,#170a42,#1a0b46,#1b0b48,#240c58,#370f73,#391074,#3b1075,#47137c,#5e1983,#6b1c84,#7a2086,#892483,#8a2583,#872484,#7c2086,#6e1d85,#5c1883,#4a147d,#421279,#3d1176,#3c1075,#360f72,#391074,#320e70,#370f73)"></div>
<div style="left:189px;width:4px;background:linear-gradient(180deg,#bf396d,#b73574,#b03279,#9e2b7f,#8e2682,#8f2682,#7f2185,#721e85,#6d1d85,#621a83,#5a1883,#581783,#541682,#4e157f,#4e1580,#4f1580,#511681,#591883,#5b1883,#591883,#6a1c84,#6c1c84,#791f86,#892483,#882483,#882483,#8d2683,#802185,#7c2086,#701d85,#611983,#5b1883,#4b147e,#47137c,#380f73,#290d60,#1d0b4b,#180b43,#170a41,#140a3c,#170a42,#1e0b4e,#2e0d69,#360f72,#360f72,#421279,#4a147e,#641a84,#721e85,#781f86,#872484,#892483,#7f2185,#701d85,#5c1883,#4e1580,#401178,#391074,#350f72,#350f72,#340f71,#2c0d66,#300e6c,#330e71)"></div>
<div style="left:192px;width:4px;background:linear-gradient(180deg,#b63574,#af317a,#a82f7d,#952881,#8d2683,#852384,#781f86,#651a84,#651a84,#581783,#501681,#4b147e,#4f1580,#4b147e,#511681,#4c157f,#521682,#591883,#591883,#5d1983,#6b1c84,#721e85,#7d2086,#8d2683,#8e2682,#892483,#8c2583,#7f2185,#761e85,#611a83,#541682,#4c147f,#43127a,#3b1075,#2c0d65,#210c52,#170a42,#140a3b,#140a3c,#160a3f,#1b0b48,#260c5b,#360f72,#340e71,#380f73,#46137b,#5b1883,#711d85,#7b2086,#812285,#892483,#812285,#761f85,#611983,#4f1580,#43127a,#3b1075,#381074,#360f72,#320e70,#300e6c,#300e6d,#310e6e,#330e71)"></div>
<div style="left:195px;width:4px;background:linear-gradient(180deg,#b93672,#ab307c,#a22d7e,#a12c7e,#8c2583,#862384,#751e85,#691c84,#5e1983,#551782,#4e157f,#4d157f,#4c147e,#4c147f,#511681,#511682,#5a1883,#5a1883,#5c1883,#601983,#721e85,#832285,#8e2682,#942881,#912782,#8d2683,#8c2583,#7b2086,#6e1d85,#5e1983,#4e1580,#4d157f,#3d1176,#310e6f,#230c57,#200c51,#130938,#160a40,#180b43,#160a3f,#240c57,#320e70,#3e1177,#3f1177,#45137b,#531682,#681b84,#781f86,#892483,#852384,#8f2682,#812285,#711d85,#5d1983,#49147d,#3c1076,#381073,#3a1075,#350f72,#350f72,#320e6f,#2e0d69,#320e70,#350f71)"></div>
<div style="left:198px;width:4px;background:linear-gradient(180deg,#ac307c,#9e2b7f,#9c2b7f,#952881,#892483,#812285,#701d85,#5b1883,#591883,#4b147e,#49147d,#4c157f,#4c147e,#521682,#501681,#561782,#581883,#5d1983,#5e1983,#691b84,#7b2086,#8e2682,#982980,#9c2b7f,#932881,#8e2682,#862384,#701d85,#621a84,#4f1580,#48147c,#411279,#350f72,#270c5c,#190b45,#130a39,#100831,#130a3a,#180b43,#1c0b4b,#2d0d68,#391074,#3d1176,#43127a,#4c157f,#5f1983,#6d1c85,#832284,#8a2583,#892483,#882483,#741e85,#621a84,#4c157f,#3d1176,#3c1176,#350f72,#360f72,#300e6c,#2e0d69,#300e6d,#310e6e,#2e0d69,#350f72)"></div>
<div style="left:201px;width:4px;background:linear-gradient(180deg,#a92f7d,#9d2b7f,#952881,#8c2583,#882483,#7c2086,#6b1c84,#521682,#561782,#4b147e,#4b147e,#501681,#521682,#511681,#571782,#571782,#5a1883,#5e1983,#5e1983,#6b1c84,#8a2583,#9d2b7f,#9c2b7f,#a32d7e,#982980,#942881,#771f86,#681b84,#551782,#48137c,#421279,#370f73,#2c0d65,#200c51,#140a3c,#120935,#0f082d,#120936,#190b45,#220c54,#350f72,#380f73,#421279,#49147d,#5a1883,#681b84,#7c2086,#892483,#8a2583,#892483,#7e2186,#6a1c84,#511681,#44137a,#3c1176,#381074,#370f73,#350f72,#300e6d,#300e6c,#300e6d,#2f0e6a,#330e71,#370f73)"></div>
<div style="left:204px;width:4px;background:linear-gradient(180deg,#a22d7e,#972980,#922781,#842384,#7d2086,#711d85,#641a84,#531682,#4f1580,#4e1580,#47137c,#4c147e,#541682,#561782,#541682,#5a1883,#5f1983,#5b1883,#6c1c84,#7f2185,#992a80,#aa2f7c,#a42d7e,#a52e7d,#992a80,#852384,#6d1c85,#561782,#4e1580,#401278,#3a1074,#2c0d66,#230c56,#160a3f,#110933,#130a3a,#100831,#140a3d,#220c54,#2e0e6a,#370f73,#3b1075,#48147c,#551782,#601983,#711d85,#882484,#8d2682,#862384,#802185,#741e85,#5d1983,#4a147d,#3e1177,#370f73,#380f73,#330e70,#320e70,#300e6c,#320e6f,#330e71,#310e6e,#340e71,#3d1176)"></div>
<div style="left:207px;width:4px;background:linear-gradient(180deg,#962981,#8d2682,#862384,#802185,#6f1d85,#691b84,#541682,#4d157f,#47137c,#48147c,#49147d,#4e1580,#501581,#501681,#511682,#581783,#5b1883,#651b84,#771f86,#8a2583,#a62e7d,#a72e7d,#a52e7e,#a32d7e,#962981,#7c2086,#5f1983,#46137b,#3b1075,#370f73,#2e0d69,#230c56,#160a3f,#110934,#0e072b,#0f082d,#110832,#190b45,#250c59,#2c0d65,#370f73,#421279,#4c157f,#561782,#6a1c84,#781f86,#862384,#8a2583,#842384,#701d85,#5d1983,#4b147e,#411278,#360f72,#370f73,#2f0e6a,#2a0d63,#2e0d68,#2b0d65,#300e6c,#2e0e6a,#310e6e,#370f73,#380f73)"></div>
<div style="left:210px;width:4px;background:linear-gradient(180deg,#932881,#8a2583,#7e2186,#7d2086,#691b84,#5e1983,#511681,#46137b,#4a147d,#4b147e,#4d157f,#501681,#521682,#561782,#571783,#5b1883,#5e1983,#731e85,#8b2583,#9f2c7f,#b23377,#ae317b,#a72e7d,#a92f7d,#942881,#6f1d85,#511681,#421279,#3e1177,#330e71,#240c58,#1b0b48,#130a3a,#110934,#0d0727,#110934,#130a39,#1f0b4f,#2c0d65,#320e70,#3f1177,#48137c,#551782,#671b84,#731e85,#832285,#892483,#8a2583,#7a1f86,#681b84,#551782,#48137c,#350f72,#340e71,#320e70,#310e6e,#2d0d68,#2d0d68,#2f0e6c,#330e70,#350f71,#381073,#350f72,#431279)"></div>
<div style="left:213px;width:4px;background:linear-gradient(180deg,#8c2583,#862384,#7f2185,#751e85,#661b84,#5a1883,#4c157f,#49147d,#4c147e,#4d157f,#501581,#501681,#551782,#571782,#591883,#581783,#701d85,#862384,#a52e7d,#ac307c,#b83673,#af317a,#ab307c,#b03279,#892483,#631a84,#49147d,#391074,#350f72,#270d5d,#1b0b49,#170a41,#0f072c,#0e072b,#110933,#120935,#190b45,#290d61,#300e6d,#3d1176,#47137c,#511682,#641a84,#731e85,#812285,#842384,#872484,#872484,#691c84,#5a1883,#4c157f,#3e1177,#3c1176,#370f73,#350f72,#2f0e6a,#2d0d68,#310e6d,#310e6f,#370f73,#380f73,#360f72,#3e1177,#411278)"></div>
<div style="left:216px;width:4px;background:linear-gradient(180deg,#7c2086,#7d2086,#711d85,#6c1c84,#581783,#4f1580,#48147d,#45137a,#4c157f,#4b147e,#4d157f,#521682,#571782,#581883,#561782,#611a83,#7d2086,#9a2a80,#ab307c,#b83673,#b63574,#aa2f7d,#ac307c,#aa2f7c,#771f86,#501681,#3e1177,#2f0e6b,#270d5d,#1b0b48,#120935,#0e0729,#0c0623,#10082f,#0f082d,#110832,#190b45,#2a0d61,#330e70,#3b1075,#531682,#5d1983,#6e1d85,#741e85,#7e2186,#7b2086,#822285,#761f85,#5f1983,#4c157f,#401278,#391074,#310e6f,#340e71,#2e0d69,#300e6d,#2b0d65,#2c0d65,#350f71,#350f72,#350f72,#380f73,#3f1178,#46137b)"></div>
<div style="left:219px;width:4px;background:linear-gradient(180deg,#7e2186,#771f86,#6b1c84,#5f1983,#511681,#4a147e,#4a147d,#43127a,#4d157f,#4e1580,#501581,#4f1580,#521682,#541682,#5d1983,#6f1d85,#8b2583,#a42d7e,#b63575,#b43476,#b63575,#b03279,#aa2f7c,#972980,#621a84,#401278,#330e71,#2b0d64,#210c53,#130a3a,#0d0728,#0d0727,#0d0726,#0d0727,#0d0728,#160a3f,#1f0b4f,#2e0d69,#3e1176,#47137c,#571783,#631a84,#741e85,#7b2086,#7f2185,#7b2086,#731e85,#631a84,#511681,#3f1177,#350f72,#370f73,#330e70,#300e6d,#2d0d68,#2b0d65,#2c0d66,#300e6d,#310e6e,#330e71,#340f71,#3a1074,#401178,#43127a)"></div>
<div style="left:222px;width:4px;background:linear-gradient(180deg,#791f86,#6f1d85,#641a84,#571782,#49147d,#44137a,#48147d,#4a147e,#501581,#4d157f,#4e1580,#4f1581,#531682,#5a1883,#6d1c85,#7d2086,#a42d7e,#b33477,#ba3771,#bd386f,#b73673,#b33476,#ab307c,#822285,#48137c,#360f72,#2b0d65,#230c57,#1c0b49,#0f082e,#0a051d,#0e0729,#0d0728,#0e0729,#10082f,#1c0b4a,#210c53,#2e0d69,#3f1177,#4a147d,#5f1983,#6c1c85,#771f86,#771f86,#791f86,#751e85,#6a1c84,#581783,#421279,#391074,#360f72,#350f72,#2e0e6a,#2b0d64,#280d5f,#2d0d67,#2c0d65,#360f72,#360f72,#360f72,#3a1074,#3d1176,#411279,#46137b)"></div>
<div style="left:225px;width:4px;background:linear-gradient(180deg,#731e85,#681b84,#611a83,#521682,#4a147d,#4a147e,#47137c,#46137b,#501681,#4f1580,#501581,#551782,#571783,#671b84,#7e2186,#912782,#b63574,#c03a6c,#be396e,#be396e,#bc3870,#b73574,#9c2b7f,#681b84,#3f1177,#330e70,#270d5d,#1a0b46,#130939,#0c0625,#0c0624,#0d0728,#0b0620,#0e0729,#150a3d,#1e0b4d,#2a0d62,#3b1075,#46137b,#521682,#691b84,#731e85,#7f2185,#802185,#7b2086,#6e1d85,#5b1883,#4d157f,#411279,#380f73,#380f73,#340e71,#2d0d67,#2c0d65,#2d0d66,#2e0d68,#320e70,#350f72,#391074,#3b1075,#3e1177,#3f1177,#45137a,#49147d)"></div>
<div style="left:228px;width:4px;background:linear-gradient(180deg,#731e85,#6b1c84,#591883,#4c157f,#49147d,#4c157f,#4b147e,#4c157f,#4c147f,#521682,#501681,#581783,#631a84,#7a2086,#8f2682,#a72e7d,#bc3870,#be396e,#bf396e,#be396e,#bc3870,#bb3771,#872484,#4f1580,#380f73,#2b0d63,#1f0b4f,#0f082e,#0f082e,#0b0622,#0a061f,#0c0625,#0c0623,#130a39,#160a40,#220c54,#2b0d63,#411278,#4a147e,#5a1883,#6b1c84,#791f86,#7b2086,#7a1f86,#711d85,#5d1983,#4c157f,#47137c,#350f72,#320e70,#310e6f,#320e70,#2c0d66,#2b0d64,#2e0d69,#2f0e6b,#320e6f,#391074,#391074,#401178,#401178,#411278,#48137c,#4a147e)"></div>
<div style="left:231px;width:4px;background:linear-gradient(180deg,#691b84,#5e1983,#531682,#4c147e,#49147d,#4b147e,#4c157f,#4d157f,#521682,#551782,#4e1580,#5f1983,#761e85,#8c2583,#a22d7e,#b43476,#c53c69,#c63d68,#c33b6a,#b93672,#b93772,#af317a,#6b1c84,#3b1075,#2f0e6b,#210c53,#150a3e,#0d0728,#0a051e,#0b0621,#0a061f,#0e0729,#0e072b,#180b44,#1b0b49,#260c5b,#360f72,#44127a,#511682,#5f1983,#721e85,#751e85,#7f2185,#731e85,#5f1983,#501681,#411279,#3d1176,#360f72,#360f72,#330e71,#2c0d65,#2c0d66,#2c0d66,#2f0e6b,#2b0d64,#320e6f,#380f73,#3e1177,#3e1177,#421279,#421279,#44137a,#4a147d)"></div>
<div style="left:234px;width:4px;background:linear-gradient(180deg,#681b84,#5b1883,#511681,#4b147e,#4a147e,#4c147f,#4b147e,#4d157f,#531682,#581783,#541682,#6c1c85,#7f2185,#a02c7f,#af317a,#c03a6c,#c13a6c,#c13a6c,#c23b6b,#c03a6c,#c03a6c,#882483,#47137c,#3a1075,#260c5b,#1a0b46,#110832,#080418,#0c0625,#0a061f,#0d0726,#0e072a,#130938,#1b0b48,#210c53,#2c0d66,#3b1075,#4b147e,#5b1883,#6a1c84,#7a1f86,#781f86,#791f86,#681b84,#541682,#45137b,#3e1177,#3b1075,#330e71,#320e70,#2f0e6a,#2d0d67,#280d5f,#2f0e6b,#2f0e6b,#330e71,#340f71,#391074,#3e1177,#431279,#45137b,#46137b,#4b147e,#4d157f)"></div>
<div style="left:237px;width:4px;background:linear-gradient(180deg,#611a83,#501681,#4a147d,#49147d,#46137b,#49147d,#4e1580,#4a147e,#4e1580,#4e1580,#641a84,#711d85,#8e2682,#a82f7d,#be396e,#c03a6c,#c13b6b,#c13a6c,#be396e,#b93672,#9f2c7f,#5a1883,#340e71,#2d0d68,#180a42,#0d0726,#0a051d,#05030f,#0b0620,#080418,#080417,#0e072b,#120935,#1b0b48,#220c55,#370f73,#3e1177,#4d157f,#5d1983,#6a1c84,#751e85,#731e85,#711d85,#5e1983,#45137b,#3a1074,#350f72,#340f71,#2f0e6a,#2e0e6a,#2b0d65,#270d5d,#280d5f,#2b0d64,#2e0d68,#310e6e,#310e6e,#360f72,#3b1075,#411278,#411278,#44127a,#46137b,#4a147d)"></div>
<div style="left:240px;width:4px;background:linear-gradient(180deg,#591883,#531682,#501581,#4d157f,#4b147e,#4b147e,#501581,#4d157f,#501681,#5d1983,#6f1d85,#862384,#a42d7e,#b73673,#cb4064,#c73d67,#c73e67,#c53d68,#c53c69,#bc3870,#7b2086,#3f1178,#310e6e,#220c55,#0f082e,#09051c,#09051b,#080417,#0b0621,#0a061f,#0d0728,#130938,#190b44,#230c55,#290d60,#391074,#431279,#581883,#6d1d85,#731e85,#771f85,#761f85,#6c1c84,#541682,#421279,#370f73,#381073,#360f72,#2d0d68,#2e0d69,#2d0d67,#290d60,#2b0d64,#2a0d62,#310e6e,#350f72,#391074,#3e1177,#3f1177,#45137b,#46137b,#47137c,#49147d,#4d157f)"></div>
<div style="left:243px;width:4px;background:linear-gradient(180deg,#551782,#4c157f,#48137c,#4a147d,#47137c,#48137c,#49147d,#4c157f,#541782,#661b84,#791f86,#942881,#ac307c,#be396e,#c33c6a,#c63d68,#c23b6b,#bf396d,#be396e,#942881,#4e1580,#330e71,#220c54,#160a3f,#070415,#05030f,#070416,#050310,#070416,#0a051d,#0a051e,#110934,#1a0b46,#260c5b,#300e6d,#380f73,#431279,#551782,#681b84,#6f1d85,#711d85,#6b1c84,#591883,#48147d,#391074,#310e6e,#300e6c,#2f0e6b,#2d0d67,#2a0d62,#280d5e,#280d5f,#2c0d66,#300e6d,#340e71,#340e71,#381074,#3a1074,#3a1075,#421279,#44127a,#3f1178,#44137a,#47137c)"></div>
<div style="left:246px;width:4px;background:linear-gradient(180deg,#581783,#511681,#4d157f,#4d157f,#4d157f,#501681,#4f1580,#521682,#641a84,#751e85,#8e2682,#a82f7d,#c03a6c,#c93f65,#cd4162,#c03a6c,#c63d68,#c63d68,#b73574,#691b84,#3b1075,#2e0e6a,#1b0b48,#100830,#09051c,#09051a,#070415,#070414,#0b0620,#0c0624,#100830,#1b0b49,#1f0c50,#2a0d63,#391074,#411279,#501581,#621a84,#711d85,#721e85,#6f1d85,#611a83,#511682,#44137a,#350f72,#310e6e,#300e6d,#2f0e6a,#2d0d68,#290d61,#2c0d66,#2e0d68,#2f0e6b,#350f72,#350f72,#3c1176,#3c1176,#411278,#44137a,#4c157f,#45137b,#45137b,#48137c,#4b147e)"></div>
<div style="left:249px;width:4px;background:linear-gradient(180deg,#5a1883,#4f1580,#501581,#4d157f,#4a147e,#4e1580,#4f1580,#591883,#721e85,#852384,#a32d7e,#b53575,#cc4063,#c63d68,#c83e66,#c73e67,#c93e66,#c53d68,#8f2682,#45137b,#370f73,#210c53,#130a3a,#0c0624,#09051b,#09051a,#080519,#070416,#0d0727,#0e072a,#140a3c,#1f0b4f,#220c55,#330e71,#360f72,#46137c,#531682,#6a1c84,#721e85,#6d1c85,#6c1c84,#591883,#4b147e,#3b1075,#350f72,#320e6f,#320e70,#300e6c,#2b0d65,#2a0d62,#2b0d64,#2e0d69,#320e70,#330e71,#380f73,#3a1074,#411278,#44137a,#47137c,#49147d,#46137b,#46137b,#4b147e,#4e1580)"></div>
<div style="left:252px;width:4px;background:linear-gradient(180deg,#571782,#511682,#511682,#4d157f,#4f1580,#4d157f,#571782,#661b84,#802185,#9b2a80,#b53475,#c33c6a,#cd4063,#ca3f65,#cc4063,#cb3f64,#cb4064,#a92f7d,#631a84,#381073,#2d0d67,#1a0b47,#0d0728,#09051c,#09051c,#080519,#080418,#050310,#0e0729,#150a3e,#1d0b4c,#240c58,#270d5d,#3f1177,#411279,#4f1580,#5e1983,#6d1c85,#711d85,#6d1c85,#671b84,#511681,#47137c,#380f73,#360f72,#310e6d,#320e70,#2f0e6b,#2d0d68,#290d60,#310e6f,#310e6e,#300e6c,#350f71,#3b1075,#3f1177,#45137a,#45137b,#48137c,#4b147e,#4a147d,#4b147e,#4a147d,#49147d)"></div>
<div style="left:255px;width:4px;background:linear-gradient(180deg,#591883,#4f1580,#4f1580,#4f1580,#4e1580,#551782,#621a84,#731e85,#902782,#ad307b,#c03a6c,#d04260,#cb3f64,#cc4063,#cf4161,#cf4261,#c83e67,#7a2086,#401278,#330e70,#260c5b,#130a39,#0c0624,#0a051e,#0b0621,#09051b,#09051c,#09051a,#110934,#1c0b4a,#210c53,#2a0d63,#340f71,#401278,#47137c,#531682,#601983,#6f1d85,#701d85,#6e1d85,#601983,#4f1580,#401178,#350f72,#310e6d,#330e70,#360f72,#310e6e,#290d60,#2e0d69,#300e6d,#340e71,#370f73,#3c1075,#3e1177,#411279,#46137b,#49147d,#4d157f,#4c147f,#4b147e,#48137c,#4d157f,#4d157f)"></div>
<div style="left:258px;width:4px;background:linear-gradient(180deg,#531682,#4d157f,#4a147d,#48137c,#4a147d,#571783,#6b1c84,#7b2086,#9e2b7f,#b03279,#c43c6a,#c83e67,#cc4063,#c83e67,#ce4162,#c63d68,#9c2b7f,#4c147f,#320e70,#270d5d,#160a40,#0c0625,#050310,#09051b,#060312,#070414,#080418,#0c0623,#120937,#180a42,#210c53,#2a0d63,#370f73,#3d1176,#46137b,#511682,#5b1883,#681b84,#6e1d85,#621a84,#521682,#421279,#360f72,#340e71,#2f0e6a,#290d61,#290d61,#2b0d63,#270d5d,#2a0d62,#2a0d62,#310e6e,#350f72,#360f73,#3d1176,#3e1177,#411278,#45137b,#4a147d,#4b147e,#49147d,#421279,#47137c,#47137c)"></div>
<div style="left:261px;width:4px;background:linear-gradient(180deg,#541782,#511681,#4b147e,#4a147e,#511682,#611a83,#7e2186,#912782,#b23377,#c33c6a,#c83e66,#cb3f64,#cf4161,#cd4162,#cd4063,#b63575,#701d85,#391074,#2f0e6a,#1b0b48,#130938,#09051a,#080418,#09051b,#05030f,#060412,#0a051e,#0e072b,#1b0b48,#220c54,#240c57,#330e71,#370f73,#46137b,#46137b,#5a1883,#5d1983,#6c1c84,#711d85,#5c1883,#4f1580,#401178,#310e6e,#2f0e6b,#2f0e6b,#2a0d63,#2c0d65,#320e6f,#2e0d69,#2d0d67,#300e6d,#340e71,#370f73,#3b1075,#421279,#3e1177,#47137c,#48147c,#4b147e,#4a147e,#47137c,#45137b,#49147d,#4c147f)"></div>
<div style="left:264px;width:4px;background:linear-gradient(180deg,#5e1983,#541782,#4f1580,#551782,#651a84,#741e85,#922781,#ac307c,#c13a6c,#cd4062,#d3455b,#d44658,#d2445c,#d2445c,#d2445c,#942881,#4d157f,#391074,#2c0d65,#190b44,#110934,#09051c,#0b0620,#0c0624,#09051a,#0b0621,#10082f,#130a39,#200c50,#2a0d62,#310e6f,#3c1176,#411278,#4e1580,#531682,#621a84,#6e1d85,#6e1d85,#721e85,#5d1983,#4f1581,#3b1075,#3d1176,#370f73,#350f71,#2f0e6b,#2f0e6b,#340e71,#310e6f,#330e71,#3a1074,#3b1075,#3b1075,#411279,#45137b,#4d157f,#4d157f,#4d157f,#4b147e,#521682,#4f1580,#4f1580,#4c157f,#551782)"></div>
<div style="left:267px;width:4px;background:linear-gradient(180deg,#571782,#4f1581,#4c157f,#521682,#6c1c84,#771f86,#9d2b7f,#b03279,#c33b6a,#d04260,#cb4064,#c93f65,#cd4062,#ce4162,#ac307c,#5a1883,#3a1074,#2e0d69,#200c50,#0f072c,#0b0620,#070414,#060413,#070416,#080417,#09051a,#0f082d,#130a39,#240c57,#220c54,#2c0d65,#340f71,#3f1178,#4b147e,#511681,#601983,#601983,#661b84,#5f1983,#4f1580,#411278,#360f72,#320e70,#2e0d69,#2e0d69,#2b0d64,#2c0d65,#2c0d65,#2d0d67,#2b0d64,#320e70,#370f73,#380f73,#3c1075,#401178,#48137c,#45137b,#4a147e,#49147d,#4f1581,#48147d,#49147d,#4b147e,#4c157f)"></div>
<div style="left:270px;width:4px;background:linear-gradient(180deg,#501681,#501681,#521682,#5c1883,#761f85,#912782,#ab307c,#b83673,#cb4064,#ce4161,#ce4162,#c93f65,#c93f65,#c23b6b,#7a2086,#3f1177,#350f72,#230c55,#170a41,#0a051e,#080519,#05030f,#080519,#0b0620,#080417,#0b0622,#120935,#150a3f,#230c56,#250c5a,#2e0d69,#3b1075,#3e1177,#4c157f,#561782,#601983,#641a84,#651b84,#591883,#48147d,#3b1075,#340e71,#320e70,#2d0d68,#2a0d62,#2c0d65,#2a0d63,#2c0d66,#2d0d68,#2e0d68,#340f71,#360f72,#380f73,#3f1177,#43127a,#46137b,#46137b,#4b147e,#47137c,#4c157f,#4a147e,#47137c,#4c147e,#4a147d)"></div>
<div style="left:273px;width:4px;background:linear-gradient(180deg,#551782,#4f1580,#501581,#651a84,#7d2086,#9e2b7f,#b33477,#c23b6b,#ce4162,#cc4063,#cc4063,#c73e67,#cb3f64,#9f2c7f,#501681,#350f72,#2a0d62,#1e0b4d,#0d0727,#080519,#070416,#060312,#060312,#080418,#09051a,#0d0728,#170a42,#1f0b4f,#250c59,#2e0d69,#350f72,#3e1177,#43127a,#4e1580,#591883,#5e1983,#641a84,#601983,#551782,#411279,#3b1075,#340e71,#340e71,#2c0d66,#280d5f,#290d60,#2d0d67,#2f0e6a,#2c0d65,#340e71,#360f72,#3a1075,#3b1075,#3f1178,#44137a,#411279,#45137b,#49147d,#48147c,#47137c,#4b147e,#46137b,#49147d,#48137c)"></div>
<div style="left:276px;width:4px;background:linear-gradient(180deg,#571782,#531682,#561782,#6b1c84,#862384,#a72e7d,#be396e,#c73e67,#cd4063,#cd4162,#ca3f65,#cc4063,#be396e,#6e1d85,#3c1176,#2e0d69,#200c50,#110933,#09051c,#05030f,#070414,#070415,#060312,#070415,#0d0726,#100831,#1b0b48,#1d0b4c,#260c5c,#2c0d66,#380f73,#401178,#421279,#4f1580,#571782,#5d1983,#5f1983,#5c1883,#4a147d,#3d1176,#330e71,#320e6f,#300e6d,#2e0d69,#2a0d63,#280d5e,#270d5d,#2f0e6a,#310e6e,#2f0e6b,#350f72,#391074,#3f1177,#3f1177,#45137a,#46137b,#46137b,#49147d,#48137c,#49147d,#48147c,#49147d,#49147d,#4c157f)"></div>
<div style="left:279px;width:4px;background:linear-gradient(180deg,#531682,#4e1580,#5b1883,#761f85,#922781,#b13378,#c13a6c,#c53d68,#ce4162,#c93f65,#cb3f64,#cd4062,#912782,#47137c,#350f72,#260c5b,#1a0b46,#0e072a,#060311,#070414,#080519,#070415,#060311,#09051a,#0d0726,#110934,#1c0b49,#1e0b4e,#2a0d62,#2e0d69,#330e71,#3e1177,#3f1177,#4f1580,#571783,#581783,#581783,#521682,#47137c,#350f72,#310e6e,#2f0e6b,#2b0d63,#270d5d,#280d5e,#260c5c,#2a0d63,#2e0d69,#2f0e6b,#2e0d68,#360f72,#391074,#3f1177,#411278,#43127a,#43127a,#45137b,#48137c,#47137c,#48137c,#4a147e,#421279,#48147d,#47137c)"></div>
<div style="left:282px;width:4px;background:linear-gradient(180deg,#581783,#511681,#5f1983,#7e2186,#a42d7e,#b73574,#c63d67,#c83e66,#c93f65,#cf4260,#c53c69,#b33377,#681b84,#350f72,#2a0d63,#190b44,#100831,#09051b,#050310,#05030f,#080418,#060413,#060312,#0b0622,#10082f,#190b45,#200c51,#210c52,#2b0d65,#320e70,#391074,#3f1178,#44127a,#4f1580,#551782,#5a1883,#581783,#4d157f,#3e1177,#310e6e,#310e6f,#2d0d68,#2c0d66,#280d5f,#250c59,#250c5a,#2b0d63,#2e0d69,#2f0e6b,#320e70,#3a1075,#3d1176,#3b1075,#43127a,#431279,#47137c,#46137b,#4a147e,#45137b,#4a147d,#411279,#44127a,#421279,#47137c)"></div>
<div style="left:285px;width:4px;background:linear-gradient(180deg,#551782,#541682,#681b84,#882483,#a82f7d,#bf3a6d,#c93f65,#c43c69,#c83e66,#c63d68,#c93e66,#892483,#46137b,#2f0e6c,#260c5c,#140a3c,#0e072b,#050310,#070414,#060413,#070414,#060311,#070415,#0f082d,#160a40,#1c0b4b,#200c51,#290d60,#2d0d68,#360f72,#391074,#431279,#48147c,#551782,#581783,#5e1983,#511682,#47137c,#381073,#2c0d65,#310e6e,#2a0d62,#290d60,#290d60,#250c59,#260c5b,#260c5b,#2e0d68,#2e0d69,#330e71,#3a1075,#3d1176,#421279,#49147d,#44127a,#47137c,#46137b,#47137c,#44137a,#4a147d,#48137c,#45137b,#45137b,#45137b)"></div>
<div style="left:288px;width:4px;background:linear-gradient(180deg,#5c1883,#5d1983,#731e85,#9b2a80,#b83673,#ca3f65,#c63d68,#c53c69,#ca3f65,#c73e67,#b13278,#581783,#370f73,#2c0d66,#1d0b4b,#0f082e,#060312,#060311,#060413,#05030f,#050310,#060312,#0a051d,#150a3d,#190b44,#1f0b4f,#230c57,#260c5c,#350f71,#391074,#3b1075,#43127a,#48147c,#511681,#561782,#5a1883,#4f1580,#43127a,#3a1075,#310e6e,#2f0e6c,#2f0e6b,#2c0d65,#2b0d64,#250c59,#270d5d,#2b0d63,#330e70,#310e6f,#360f72,#3c1176,#3c1176,#45137b,#46137b,#45137b,#48137c,#45137b,#46137b,#4a147e,#4a147d,#48137c,#46137b,#48147d,#4b147e)"></div>
<div style="left:291px;width:4px;background:linear-gradient(180deg,#5e1983,#661b84,#822285,#ab307c,#c43c69,#ce4162,#cb4064,#c73d67,#d04260,#c83e66,#802185,#3f1177,#300e6c,#290d60,#170a40,#09051a,#070414,#050310,#080519,#050310,#080417,#0b0620,#110934,#190b45,#210c52,#210c53,#2a0d62,#2c0d66,#370f73,#391074,#411279,#47137c,#4f1581,#5c1883,#551782,#5a1883,#4e1580,#421279,#380f73,#320e70,#2e0d69,#2d0d68,#2d0d68,#290d60,#270c5c,#270d5d,#2f0e6b,#350f72,#360f72,#3c1075,#401178,#411278,#48137c,#49147d,#4b147e,#4b147e,#46137b,#48137c,#4c157f,#47137c,#48137c,#4a147e,#48147d,#4d157f)"></div>
<div style="left:294px;width:4px;background:linear-gradient(180deg,#611a83,#6c1c85,#942881,#b23378,#c73e67,#c93f65,#c73d67,#c73e67,#ca3f65,#ad307b,#561782,#340e71,#290d60,#1c0b4a,#0f082e,#060413,#080519,#060412,#060312,#05030f,#09051b,#0c0623,#110933,#1d0b4c,#230c55,#230c56,#2b0d63,#2e0d69,#3b1075,#381073,#3e1177,#47137c,#4c157f,#581783,#541682,#561782,#46137b,#3e1177,#350f72,#310e6e,#2f0e6a,#2c0d65,#2a0d63,#280d5f,#260c5b,#2a0d62,#300e6d,#380f73,#340f71,#3a1074,#401178,#411279,#431279,#46137b,#48137c,#47137c,#45137a,#4a147e,#47137c,#48147d,#47137c,#45137b,#46137b,#4b147e)"></div>
<div style="left:297px;width:4px;background:linear-gradient(180deg,#5e1983,#7c2086,#a22d7e,#bd386f,#c73d67,#c73d67,#c93f65,#c43c6a,#c63d67,#7c2086,#3c1075,#320e6f,#230c57,#170a42,#0b0621,#060311,#060311,#080519,#070415,#05030f,#0b0621,#0f082e,#1b0b48,#250c59,#230c55,#270d5d,#2d0d67,#2f0e6a,#391074,#3b1075,#3f1177,#4b147e,#4e1580,#581783,#541782,#501681,#49147d,#3c1076,#350f72,#350f71,#2f0e6b,#2b0d63,#280d5e,#250c5a,#290d61,#280d5e,#2c0d66,#360f72,#370f73,#3d1176,#3f1177,#45137b,#411279,#4a147e,#48147d,#46137b,#49147d,#49147d,#49147d,#4a147e,#4a147e,#48137c,#47137c,#4a147d)"></div>
<div style="left:300px;width:4px;background:linear-gradient(180deg,#691c84,#882483,#af327a,#c53c69,#c43c6a,#c73e67,#c93f65,#c73d67,#ae317b,#5b1883,#340e71,#300e6d,#200c52,#0f082e,#080418,#050310,#060311,#050310,#060413,#05030f,#0a051d,#130a3a,#180b43,#250c59,#240c57,#250c5a,#2e0d69,#2e0e6a,#380f73,#3c1076,#411279,#4a147d,#4d157f,#541682,#531682,#4e1580,#411279,#370f73,#310e6e,#2f0e6b,#320e70,#2d0d67,#270d5e,#280d5f,#270d5e,#2a0d62,#2f0e6b,#340f71,#340f71,#3b1075,#3f1177,#411279,#44137a,#47137c,#46137b,#46137b,#44137a,#48147d,#48137c,#4c147e,#48147c,#44137a,#49147d,#4c147f)"></div>
<div style="left:303px;width:4px;background:linear-gradient(180deg,#721e85,#902782,#bd386f,#c53d68,#c83e66,#c33c6a,#c23b6b,#c13a6c,#7c2086,#3f1177,#300e6d,#290d61,#190b45,#0c0625,#070414,#05030f,#060413,#080417,#060413,#080519,#110934,#180b43,#210c52,#290d61,#280d5f,#260c5c,#2b0d64,#310e6d,#370f73,#380f73,#411279,#4b147e,#501681,#571782,#561782,#49147d,#3c1075,#360f72,#340f71,#2e0d68,#2c0d65,#250c5a,#2b0d64,#270d5e,#2c0d65,#2f0e6a,#350f72,#381074,#3a1075,#391074,#43127a,#43127a,#48147d,#47137c,#47137c,#46137b,#49147d,#49147d,#46137b,#49147d,#45137b,#48147c,#4b147e,#4b147e)"></div>
<div style="left:306px;width:4px;background:linear-gradient(180deg,#832285,#ad307b,#c23b6b,#ca3f64,#c43c69,#c93f65,#cb4064,#a72e7d,#581783,#3a1075,#300e6d,#250c5a,#160a3f,#0e0729,#070415,#070414,#080417,#080417,#080417,#0f082d,#190b45,#1f0c50,#240c58,#2a0d62,#280d5f,#2d0d68,#320e70,#340f71,#3c1176,#3f1177,#47137c,#501581,#501681,#581783,#511681,#48137c,#3e1177,#340f71,#310e6e,#2f0e6b,#2c0d66,#2c0d66,#2b0d65,#290d61,#2c0d66,#2d0d68,#330e71,#370f73,#380f73,#3e1177,#48147d,#44127a,#48147d,#48147c,#4a147d,#47137c,#47137c,#4b147e,#48147d,#4b147e,#49147d,#48147d,#4b147e,#4e1580)"></div>
<div style="left:309px;width:4px;background:linear-gradient(180deg,#992a80,#b43476,#c33c6a,#c53c69,#c63d68,#c43c69,#c13b6c,#771f86,#401278,#350f72,#2b0d64,#220c55,#140a3c,#0a051e,#080418,#060412,#080519,#080418,#0a051e,#0f082e,#1b0b49,#230c57,#240c59,#2c0d66,#2a0d63,#2e0d69,#370f73,#340f71,#3c1076,#431279,#49147d,#531682,#531682,#591883,#4d157f,#44137a,#391074,#320e70,#310e6e,#2e0d68,#2f0e6c,#2c0d66,#280d5f,#2a0d62,#2b0d64,#2f0e6b,#350f72,#3b1075,#3b1075,#421279,#48147c,#45137b,#49147d,#4c147e,#4a147d,#4a147d,#47137c,#4d157f,#48137c,#4d157f,#4d157f,#46137b,#4d157f,#4e1580)"></div>
<div style="left:312px;width:4px;background:linear-gradient(180deg,#aa2f7c,#be396e,#bd396f,#c03a6d,#ba3771,#c03a6d,#a32d7e,#501581,#381074,#330e70,#2b0d63,#1e0b4d,#150a3f,#0a051f,#080419,#05030f,#070415,#080418,#0d0728,#110934,#1e0b4e,#200c51,#240c58,#280d5f,#2d0d67,#2e0e6a,#350f72,#370f73,#3e1177,#431279,#48137c,#4d157f,#511682,#511682,#4a147d,#401178,#340e71,#320e70,#310e6f,#2d0d67,#2b0d65,#280d5f,#2a0d62,#2b0d63,#2a0d63,#2e0e6a,#320e70,#391074,#391074,#3e1177,#46137b,#47137c,#45137b,#49147d,#45137b,#46137b,#45137b,#4b147e,#48147c,#4d157f,#49147d,#45137b,#49147d,#4d157f)"></div>
<div style="left:315px;width:4px;background:linear-gradient(180deg,#b33377,#ba3771,#bc3870,#be396e,#c33b6a,#be396e,#7c2086,#3a1075,#320e70,#2f0e6b,#230c56,#200c50,#110832,#080418,#060311,#05030f,#070415,#09051a,#100831,#170a41,#230c56,#240c57,#250c59,#2a0d62,#2a0d63,#2c0d66,#340e71,#370f73,#3e1177,#401278,#4a147e,#4f1580,#4c157f,#4e1580,#43127a,#3b1075,#2f0e6a,#2f0e6a,#310e6e,#2c0d65,#2b0d65,#290d60,#290d61,#2d0d67,#2b0d64,#2e0e6a,#370f73,#3c1076,#3c1176,#3f1177,#43127a,#47137c,#47137c,#48147c,#49147d,#48147c,#46137b,#49147d,#48137c,#4c157f,#44127a,#45137a,#46137b,#4b147e)"></div>
<div style="left:318px;width:4px;background:linear-gradient(180deg,#bc3870,#bf396d,#bd396e,#c13b6c,#be396e,#a62e7d,#5a1883,#380f73,#320e70,#2c0d65,#260c5b,#190b44,#100830,#09051b,#070414,#070415,#09051a,#0b0622,#130a3a,#1e0b4e,#240c58,#260c5c,#2b0d64,#2c0d66,#2f0e6b,#300e6d,#330e71,#3a1075,#411279,#44137a,#4c157f,#511682,#4d157f,#4e1580,#411278,#370f73,#320e70,#310e6e,#2f0e6b,#2c0d66,#2c0d66,#2b0d65,#2b0d65,#290d61,#2c0d66,#320e70,#360f72,#3e1177,#421279,#3e1177,#45137a,#47137c,#48147c,#4a147e,#45137b,#49147d,#46137b,#46137b,#48147c,#4b147e,#4c147f,#46137b,#4a147e,#49147d)"></div>
<div style="left:321px;width:0.83px;background:linear-gradient(180deg,#be396e,#bf3a6d,#bb3870,#be396e,#ba3771,#8d2682,#47137c,#330e70,#330e70,#2d0d68,#230c56,#190b44,#0f082d,#0a051e,#070416,#070414,#0a051e,#10082f,#1b0b47,#1e0b4e,#260c5c,#280d5e,#2d0d68,#300e6d,#300e6d,#330e71,#391074,#3a1074,#43127a,#4c157f,#4e1580,#511681,#541682,#4e1580,#401178,#380f73,#330e70,#340f71,#330e71,#2d0d67,#2d0d68,#290d60,#2c0d65,#2e0d68,#300e6c,#310e6e,#381073,#431279,#44127a,#47137c,#4c157f,#4c147f,#4e1580,#4c147f,#4a147d,#4a147d,#4a147d,#4c157f,#4b147e,#4c157f,#4b147e,#48137c,#501581,#4f1580)"></div>
</div>
<svg id="ov" width="514" height="582" viewBox="0 0 514 582">
<defs>
<linearGradient id="cb" x1="0" y1="0" x2="0" y2="1">
<stop offset="0" stop-color="#f5e33a"/><stop offset=".13" stop-color="#f5ac28"/><stop offset=".24" stop-color="#f08820"/>
<stop offset=".34" stop-color="#e65838"/><stop offset=".43" stop-color="#d04260"/><stop offset=".52" stop-color="#ac307c"/>
<stop offset=".62" stop-color="#7c2086"/><stop offset=".72" stop-color="#521682"/><stop offset=".82" stop-color="#320e70"/>
<stop offset=".92" stop-color="#140a3c"/><stop offset="1" stop-color="#05030f"/>
</linearGradient>
</defs>
<!-- annotation guide lines -->
<g fill="#000">
<rect x="277.1" y="112.4" width="4.4" height="4.4" transform="rotate(45 279.3 114.6)"/>
<path d="M284.2 122.2 L286.6 119.6 Q290.4 121.8 290.4 126.2 L286 126.2 Q286 123.6 284.2 122.2Z"/>
<rect x="286" y="133.5" width="4.4" height="8.6"/>
<rect x="286" y="149.8" width="4.4" height="4.3"/>
<rect x="307.1" y="112" width="4.4" height="4"/>
<rect x="307.1" y="124" width="4.4" height="7.8"/>
<rect x="307.1" y="139.5" width="4.4" height="4.3"/>
</g>
<g fill="#fff">
<rect x="286" y="157.6" width="4.4" height="4.3"/>
<rect x="286" y="168.7" width="4.4" height="8.6"/>
<rect x="286" y="184.9" width="4.4" height="4.6"/>
<rect x="307.1" y="152" width="4.4" height="4.4"/>
<rect x="307.1" y="164.4" width="4.4" height="7.8"/>
<rect x="307.1" y="180" width="4.4" height="4.2"/>
<path d="M341.7 298.2 L351 309.9 L345.6 310.7 L342.3 313Z"/>
<path d="M347.5 321.1 L351.4 319.6 L354.8 326.2 L351 328.1Z"/>
</g>
<!-- colour bar -->
<rect x="482.9" y="132.2" width="11" height="24.4" fill="url(#cb)"/>
<text transform="translate(461.4 127.8) scale(1.06 1)" font-size="23.8">Max</text>
<text transform="translate(461.5 175.8) scale(1.06 1)" font-size="23.8">Min</text>
<text transform="translate(232.9 115.2) scale(1.09 1)" font-size="23.6">-1/3</text>
<text transform="translate(285 107.2) scale(1.07 1)" font-size="23.8">-1/4</text>
<text transform="translate(315.4 358.2) scale(1.09 1)" font-size="23.6">-1/6</text>
<!-- frame -->
<rect x="122.3" y="86.4" width="390.3" height="412.2" fill="none" stroke="#000" stroke-width="3.4"/>
<g stroke="#000" stroke-width="3.4">
<path d="M144.8 72V86M259.5 72V86M374.2 72V86M488.9 72V86"/>
<path d="M264.6 484.2V498M415.6 484.2V498"/>
<path d="M123 114.7H136.6M123 203.3H136.6M123 291.9H136.6M123 380.5H136.6M123 469.1H136.6"/>
</g>
<!-- tick labels -->
<g font-size="25" text-anchor="middle">
<text x="144.7" y="52.5">−1.0</text>
<text x="259.4" y="52.5">−0.5</text>
<text x="374.1" y="52.5">0.0</text>
<text x="488.9" y="52.5">0.5</text>
<text x="264.5" y="531.5">−2</text>
<text x="415.5" y="531.5">0</text>
</g>
<g font-size="25" text-anchor="end">
<text x="107.6" y="123.7">200</text>
<text x="107.6" y="212.4">100</text>
<text x="107.6" y="301">0</text>
<text x="107.6" y="389.6">−100</text>
<text x="107.6" y="478.2">−200</text>
</g>
<!-- axis labels -->
<text class="it" x="316.7" y="14.3" font-size="24" text-anchor="middle">ν</text>
<text x="238.5" y="574.9" font-size="25"><tspan class="it" font-size="24">ñ</tspan> (10<tspan class="dj" font-size="17" dy="-9.2">12</tspan><tspan dy="9.2" letter-spacing=".5"> cm</tspan><tspan class="dj" font-size="17.5" dy="-9.2" dx="1.6">−2</tspan><tspan dy="9.2" dx=".4">)</tspan></text>
<text transform="translate(25.5 371) rotate(-90)" font-size="25"><tspan class="it" font-size="24">D̃</tspan>/<tspan class="it" font-size="24" dx="2">ε</tspan><tspan class="dj" font-size="17" dy="5">0</tspan><tspan dy="-5" dx="1.5"> (mV/nm)</tspan></text>
</svg>

</div>
</body></html>
